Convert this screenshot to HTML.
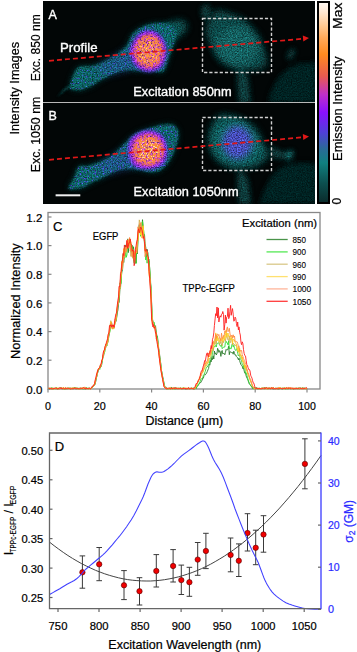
<!DOCTYPE html><html><head><meta charset="utf-8"><style>html,body{margin:0;padding:0;background:#fff;width:357px;height:652px;overflow:hidden}svg{display:block;font-family:"Liberation Sans",sans-serif}</style></head><body><svg width="357" height="652" viewBox="0 0 357 652" >
<defs>
<filter id="blur1" x="-20%" y="-20%" width="140%" height="140%"><feGaussianBlur stdDeviation="1.0"/></filter>
<filter id="blur2" x="-30%" y="-30%" width="160%" height="160%"><feGaussianBlur stdDeviation="2.5"/></filter>
<filter id="blur3" x="-30%" y="-30%" width="160%" height="160%"><feGaussianBlur stdDeviation="3"/></filter>
<filter id="blur4" x="-50%" y="-50%" width="200%" height="200%"><feGaussianBlur stdDeviation="4"/></filter>
<filter id="speck" x="0" y="0" width="100%" height="100%">
  <feTurbulence type="fractalNoise" baseFrequency="0.9" numOctaves="1" seed="3" result="n"/>
  <feColorMatrix in="n" type="matrix" values="0 0 0 0 0  0 0 0 0 0  0 0 0 0 0  0 0 0 -2.2 1.35" result="a"/>
  <feComposite in="SourceGraphic" in2="a" operator="in"/>
</filter>
<clipPath id="clipC"><rect x="48.7" y="213.2" width="270.6" height="180"/></clipPath>
<clipPath id="clipA"><rect x="43" y="1" width="272" height="101"/></clipPath>
<clipPath id="clipB"><rect x="43" y="103" width="272" height="101"/></clipPath>
<filter id="tex" filterUnits="userSpaceOnUse" x="43" y="1" width="272" height="203" color-interpolation-filters="sRGB">
  <feTurbulence type="fractalNoise" baseFrequency="0.8" numOctaves="2" seed="11" result="n"/>
  <feColorMatrix in="n" type="matrix" values="1 0 0 0 0  1 0 0 0 0  1 0 0 0 0  0 0 0 0 1" result="g"/>
  <feComposite in="SourceGraphic" in2="g" operator="arithmetic" k1="1.7" k2="0.15" k3="0" k4="0"/>
</filter>
<filter id="spk0" x="0" y="0" width="100%" height="100%" color-interpolation-filters="sRGB">
  <feTurbulence type="fractalNoise" baseFrequency="0.8" numOctaves="1" seed="4" result="n"/>
  <feColorMatrix in="n" type="matrix" values="0 0 0 0 1  0 0 0 0 0.85  0 0 0 0 0.45  9 0 0 0 -5.3" result="c"/>
  <feComposite in="c" in2="SourceGraphic" operator="in"/>
</filter>
<filter id="spk1" x="0" y="0" width="100%" height="100%" color-interpolation-filters="sRGB">
  <feTurbulence type="fractalNoise" baseFrequency="0.8" numOctaves="1" seed="9" result="n"/>
  <feColorMatrix in="n" type="matrix" values="0 0 0 0 1  0 0 0 0 0.9  0 0 0 0 0.6  9 0 0 0 -5.0" result="c"/>
  <feComposite in="c" in2="SourceGraphic" operator="in"/>
</filter>
<filter id="mottle0" x="0" y="0" width="100%" height="100%" color-interpolation-filters="sRGB">
  <feTurbulence type="fractalNoise" baseFrequency="0.45" numOctaves="2" seed="21" result="n"/>
  <feColorMatrix in="n" type="matrix" values="0 0 0 0 0  0 0 0 0 0  0 0 0 0 0  6 0 0 0 -2.3" result="m"/>
  <feComposite in="SourceGraphic" in2="m" operator="in" result="o"/>
  <feGaussianBlur in="o" stdDeviation="0.4"/>
</filter>
<filter id="mottle1" x="0" y="0" width="100%" height="100%" color-interpolation-filters="sRGB">
  <feTurbulence type="fractalNoise" baseFrequency="0.45" numOctaves="2" seed="33" result="n"/>
  <feColorMatrix in="n" type="matrix" values="0 0 0 0 0  0 0 0 0 0  0 0 0 0 0  6 0 0 0 -2.2" result="m"/>
  <feComposite in="SourceGraphic" in2="m" operator="in" result="o"/>
  <feGaussianBlur in="o" stdDeviation="0.4"/>
</filter>
<radialGradient id="nucO" cx="0.5" cy="0.5" r="0.5">
  <stop offset="0" stop-color="#ffa040"/>
  <stop offset="0.7" stop-color="#fa8438"/>
  <stop offset="0.88" stop-color="#f07050" stop-opacity="0.8"/>
  <stop offset="1" stop-color="#e06070" stop-opacity="0.1"/>
</radialGradient>
<radialGradient id="nucY" cx="0.5" cy="0.5" r="0.5">
  <stop offset="0" stop-color="#fff"/>
  <stop offset="0.6" stop-color="#fff"/>
  <stop offset="1" stop-color="#fff" stop-opacity="0"/>
</radialGradient>
<filter id="spkB0" x="0" y="0" width="100%" height="100%" color-interpolation-filters="sRGB">
  <feTurbulence type="fractalNoise" baseFrequency="0.6" numOctaves="1" seed="17" result="n"/>
  <feColorMatrix in="n" type="matrix" values="0 0 0 0 0.3  0 0 0 0 0.25  0 0 0 0 0.85  8 0 0 0 -4.7" result="c"/>
  <feComposite in="c" in2="SourceGraphic" operator="in"/>
</filter>
<filter id="spkB1" x="0" y="0" width="100%" height="100%" color-interpolation-filters="sRGB">
  <feTurbulence type="fractalNoise" baseFrequency="0.6" numOctaves="1" seed="27" result="n"/>
  <feColorMatrix in="n" type="matrix" values="0 0 0 0 0.3  0 0 0 0 0.25  0 0 0 0 0.85  8 0 0 0 -4.5" result="c"/>
  <feComposite in="c" in2="SourceGraphic" operator="in"/>
</filter>
<linearGradient id="cbar" x1="0" y1="0" x2="0" y2="1">
  <stop offset="0" stop-color="#fffaf5"/>
  <stop offset="0.05" stop-color="#ffe8d2"/>
  <stop offset="0.12" stop-color="#ffc890"/>
  <stop offset="0.18" stop-color="#ffa858"/>
  <stop offset="0.26" stop-color="#ff8a20"/>
  <stop offset="0.37" stop-color="#e85a50"/>
  <stop offset="0.46" stop-color="#c030c8"/>
  <stop offset="0.55" stop-color="#8a10ff"/>
  <stop offset="0.65" stop-color="#5040d8"/>
  <stop offset="0.73" stop-color="#2a6a98"/>
  <stop offset="0.80" stop-color="#108080"/>
  <stop offset="0.9" stop-color="#0c5050"/>
  <stop offset="1" stop-color="#0a2a2a"/>
</linearGradient>
<radialGradient id="nucA" cx="0.5" cy="0.5" r="0.5">
  <stop offset="0" stop-color="#f49060"/>
  <stop offset="0.65" stop-color="#ee8458"/>
  <stop offset="0.88" stop-color="#b850c0"/>
  <stop offset="1" stop-color="#8030e0" stop-opacity="0.3"/>
</radialGradient>
<radialGradient id="nucR" cx="0.5" cy="0.5" r="0.5">
  <stop offset="0" stop-color="#6a40e8"/>
  <stop offset="0.6" stop-color="#5a40d8"/>
  <stop offset="1" stop-color="#3a70b0" stop-opacity="0"/>
</radialGradient>

</defs>
<rect width="357" height="652" fill="#fff"/>
<rect x="43" y="1" width="272" height="203" fill="#020606"/>
<g clip-path="url(#clipA)">
<g filter="url(#tex)">
<g filter="url(#blur2)">
<ellipse cx="206" cy="12" rx="5" ry="8" fill="#0a3a3a"/>
<path d="M268,103 C270,84 284,66 300,63 C308,62 314,62 318,62 L318,103 Z" fill="#052020"/>
<path d="M238,68 C244,70 248,74 249,82 L251,103 L239,103 C238,92 236,80 238,68 Z" fill="#0a3c3c"/>
<ellipse cx="291" cy="54" rx="3" ry="6" transform="rotate(30 291 54)" fill="#0a4040"/>
</g>
<path d="M216.0,10.5 L217.7,10.1 L219.4,10.1 L221.4,10.4 L223.4,11.0 L225.7,11.7 L228.0,12.5 L230.6,13.3 L233.4,14.2 L236.4,15.2 L239.4,16.4 L242.3,18.0 L245.0,20.0 L247.5,22.5 L249.8,25.6 L252.0,29.0 L254.2,32.5 L256.1,35.9 L258.0,39.1 L259.8,42.1 L261.5,45.0 L263.2,47.9 L264.6,50.7 L265.7,53.3 L266.4,55.8 L266.8,58.2 L267.1,60.5 L267.1,62.6 L266.6,64.6 L265.6,66.3 L264.0,67.7 L261.5,68.8 L258.1,69.7 L254.2,70.2 L250.1,70.6 L246.1,70.7 L242.6,70.5 L239.5,70.0 L236.5,69.1 L233.6,67.9 L230.8,66.6 L228.3,65.3 L226.0,64.0 L224.0,62.9 L222.3,61.9 L220.8,60.9 L219.4,59.6 L218.0,58.0 L216.4,55.8 L214.6,52.9 L212.5,49.3 L210.4,45.3 L208.5,41.2 L207.0,37.3 L206.0,34.0 L205.7,31.2 L205.9,28.6 L206.4,26.2 L207.2,24.0 L208.1,22.0 L209.0,20.0 L209.9,18.0 L210.9,16.1 L211.9,14.2 L213.1,12.6 L214.5,11.4Z" fill="#0b4444" filter="url(#blur3)"/>
<ellipse cx="238" cy="46" rx="22" ry="20" fill="#136868" opacity="0.8" filter="url(#blur4)"/>
<path d="M57,97 L66,90 L71,87 L70,85 L64,89 Z" fill="#0c5050" filter="url(#blur1)"/>
<ellipse cx="173" cy="30" rx="15" ry="9" transform="rotate(-25 173 30)" fill="#0c5050" filter="url(#blur3)"/>
<path d="M70.0,86.0 L70.2,84.8 L70.5,83.4 L71.0,81.7 L71.5,80.1 L72.0,78.5 L72.5,77.0 L73.0,75.7 L73.6,74.4 L74.1,73.2 L74.7,72.0 L75.3,70.9 L76.0,70.0 L76.6,69.2 L77.2,68.5 L77.9,67.8 L78.6,67.3 L79.4,66.9 L80.5,66.5 L81.8,66.3 L83.3,66.3 L84.9,66.3 L86.6,66.4 L88.3,66.4 L90.0,66.2 L91.6,65.9 L93.3,65.6 L95.0,65.2 L96.6,64.7 L98.3,64.1 L100.0,63.5 L101.7,62.8 L103.4,62.0 L105.1,61.1 L106.8,60.2 L108.5,59.3 L110.0,58.4 L111.4,57.6 L112.7,56.9 L113.9,56.2 L115.1,55.4 L116.4,54.6 L117.7,53.6 L119.2,52.5 L120.7,51.3 L122.4,50.1 L123.9,48.7 L125.4,47.3 L126.7,45.8 L127.7,44.1 L128.6,42.3 L129.3,40.3 L130.0,38.4 L130.8,36.6 L131.8,35.0 L133.0,33.6 L134.2,32.3 L135.6,31.1 L137.0,30.0 L138.5,28.9 L140.0,28.0 L141.6,27.1 L143.3,26.3 L145.1,25.6 L146.9,25.0 L148.7,24.5 L150.4,24.0 L152.1,23.6 L153.7,23.4 L155.4,23.2 L156.9,23.1 L158.5,23.0 L160.0,23.0 L161.4,23.0 L162.9,23.1 L164.2,23.2 L165.5,23.4 L166.8,23.6 L168.0,24.0 L169.2,24.4 L170.3,25.0 L171.4,25.6 L172.4,26.3 L173.3,27.1 L174.0,28.0 L174.6,29.1 L175.1,30.3 L175.6,31.6 L175.9,33.0 L176.0,34.5 L176.0,36.0 L175.8,37.5 L175.4,39.1 L174.9,40.8 L174.3,42.5 L173.6,44.3 L173.0,46.0 L172.4,47.8 L171.7,49.7 L171.0,51.6 L170.3,53.4 L169.6,55.3 L169.0,57.0 L168.5,58.7 L168.0,60.3 L167.5,61.8 L167.0,63.3 L166.5,64.7 L166.0,66.0 L165.5,67.3 L165.1,68.5 L164.6,69.7 L164.0,70.7 L163.2,71.5 L162.0,72.0 L160.3,72.2 L158.2,72.0 L155.8,71.6 L153.4,71.1 L151.1,70.7 L149.0,70.5 L147.2,70.5 L145.6,70.5 L144.1,70.7 L142.6,70.8 L141.1,70.9 L139.6,70.9 L138.0,70.8 L136.4,70.6 L134.8,70.4 L133.2,70.2 L131.6,70.0 L130.0,70.0 L128.4,70.1 L126.7,70.2 L125.0,70.5 L123.3,70.7 L121.7,71.1 L120.0,71.5 L118.3,72.0 L116.7,72.5 L115.0,73.1 L113.3,73.8 L111.7,74.5 L110.0,75.2 L108.3,76.0 L106.6,76.9 L104.9,77.8 L103.2,78.7 L101.5,79.6 L100.0,80.5 L98.6,81.3 L97.4,82.1 L96.3,82.9 L95.1,83.7 L93.8,84.4 L92.4,85.2 L90.8,86.0 L89.0,86.9 L87.1,87.8 L85.1,88.6 L83.2,89.2 L81.4,89.7 L79.6,89.9 L77.6,90.0 L75.7,89.9 L74.0,89.7 L72.5,89.4 L71.3,89.1 L70.5,88.8 L70.1,88.5 L69.9,88.1 L69.8,87.6 L69.9,86.9Z" fill="#0d5656" opacity="0.7" filter="url(#blur3)"/>
<path d="M70.0,86.0 L70.2,84.8 L70.5,83.4 L71.0,81.7 L71.5,80.1 L72.0,78.5 L72.5,77.0 L73.0,75.7 L73.6,74.4 L74.1,73.2 L74.7,72.0 L75.3,70.9 L76.0,70.0 L76.6,69.2 L77.2,68.5 L77.9,67.8 L78.6,67.3 L79.4,66.9 L80.5,66.5 L81.8,66.3 L83.3,66.3 L84.9,66.3 L86.6,66.4 L88.3,66.4 L90.0,66.2 L91.6,65.9 L93.3,65.6 L95.0,65.2 L96.6,64.7 L98.3,64.1 L100.0,63.5 L101.7,62.8 L103.4,62.0 L105.1,61.1 L106.8,60.2 L108.5,59.3 L110.0,58.4 L111.4,57.6 L112.7,56.9 L113.9,56.2 L115.1,55.4 L116.4,54.6 L117.7,53.6 L119.2,52.5 L120.7,51.3 L122.4,50.1 L123.9,48.7 L125.4,47.3 L126.7,45.8 L127.7,44.1 L128.6,42.3 L129.3,40.3 L130.0,38.4 L130.8,36.6 L131.8,35.0 L133.0,33.6 L134.2,32.3 L135.6,31.1 L137.0,30.0 L138.5,28.9 L140.0,28.0 L141.6,27.1 L143.3,26.3 L145.1,25.6 L146.9,25.0 L148.7,24.5 L150.4,24.0 L152.1,23.6 L153.7,23.4 L155.4,23.2 L156.9,23.1 L158.5,23.0 L160.0,23.0 L161.4,23.0 L162.9,23.1 L164.2,23.2 L165.5,23.4 L166.8,23.6 L168.0,24.0 L169.2,24.4 L170.3,25.0 L171.4,25.6 L172.4,26.3 L173.3,27.1 L174.0,28.0 L174.6,29.1 L175.1,30.3 L175.6,31.6 L175.9,33.0 L176.0,34.5 L176.0,36.0 L175.8,37.5 L175.4,39.1 L174.9,40.8 L174.3,42.5 L173.6,44.3 L173.0,46.0 L172.4,47.8 L171.7,49.7 L171.0,51.6 L170.3,53.4 L169.6,55.3 L169.0,57.0 L168.5,58.7 L168.0,60.3 L167.5,61.8 L167.0,63.3 L166.5,64.7 L166.0,66.0 L165.5,67.3 L165.1,68.5 L164.6,69.7 L164.0,70.7 L163.2,71.5 L162.0,72.0 L160.3,72.2 L158.2,72.0 L155.8,71.6 L153.4,71.1 L151.1,70.7 L149.0,70.5 L147.2,70.5 L145.6,70.5 L144.1,70.7 L142.6,70.8 L141.1,70.9 L139.6,70.9 L138.0,70.8 L136.4,70.6 L134.8,70.4 L133.2,70.2 L131.6,70.0 L130.0,70.0 L128.4,70.1 L126.7,70.2 L125.0,70.5 L123.3,70.7 L121.7,71.1 L120.0,71.5 L118.3,72.0 L116.7,72.5 L115.0,73.1 L113.3,73.8 L111.7,74.5 L110.0,75.2 L108.3,76.0 L106.6,76.9 L104.9,77.8 L103.2,78.7 L101.5,79.6 L100.0,80.5 L98.6,81.3 L97.4,82.1 L96.3,82.9 L95.1,83.7 L93.8,84.4 L92.4,85.2 L90.8,86.0 L89.0,86.9 L87.1,87.8 L85.1,88.6 L83.2,89.2 L81.4,89.7 L79.6,89.9 L77.6,90.0 L75.7,89.9 L74.0,89.7 L72.5,89.4 L71.3,89.1 L70.5,88.8 L70.1,88.5 L69.9,88.1 L69.8,87.6 L69.9,86.9Z" fill="#116868" filter="url(#blur1)" opacity="0.9"/>
<path d="M70.0,86.0 L70.2,84.8 L70.5,83.4 L71.0,81.7 L71.5,80.1 L72.0,78.5 L72.5,77.0 L73.0,75.7 L73.6,74.4 L74.1,73.2 L74.7,72.0 L75.3,70.9 L76.0,70.0 L76.6,69.2 L77.2,68.5 L77.9,67.8 L78.6,67.3 L79.4,66.9 L80.5,66.5 L81.8,66.3 L83.3,66.3 L84.9,66.3 L86.6,66.4 L88.3,66.4 L90.0,66.2 L91.6,65.9 L93.3,65.6 L95.0,65.2 L96.6,64.7 L98.3,64.1 L100.0,63.5 L101.7,62.8 L103.4,62.0 L105.1,61.1 L106.8,60.2 L108.5,59.3 L110.0,58.4 L111.4,57.6 L112.7,56.9 L113.9,56.2 L115.1,55.4 L116.4,54.6 L117.7,53.6 L119.2,52.5 L120.7,51.3 L122.4,50.1 L123.9,48.7 L125.4,47.3 L126.7,45.8 L127.7,44.1 L128.6,42.3 L129.3,40.3 L130.0,38.4 L130.8,36.6 L131.8,35.0 L133.0,33.6 L134.2,32.3 L135.6,31.1 L137.0,30.0 L138.5,28.9 L140.0,28.0 L141.6,27.1 L143.3,26.3 L145.1,25.6 L146.9,25.0 L148.7,24.5 L150.4,24.0 L152.1,23.6 L153.7,23.4 L155.4,23.2 L156.9,23.1 L158.5,23.0 L160.0,23.0 L161.4,23.0 L162.9,23.1 L164.2,23.2 L165.5,23.4 L166.8,23.6 L168.0,24.0 L169.2,24.4 L170.3,25.0 L171.4,25.6 L172.4,26.3 L173.3,27.1 L174.0,28.0 L174.6,29.1 L175.1,30.3 L175.6,31.6 L175.9,33.0 L176.0,34.5 L176.0,36.0 L175.8,37.5 L175.4,39.1 L174.9,40.8 L174.3,42.5 L173.6,44.3 L173.0,46.0 L172.4,47.8 L171.7,49.7 L171.0,51.6 L170.3,53.4 L169.6,55.3 L169.0,57.0 L168.5,58.7 L168.0,60.3 L167.5,61.8 L167.0,63.3 L166.5,64.7 L166.0,66.0 L165.5,67.3 L165.1,68.5 L164.6,69.7 L164.0,70.7 L163.2,71.5 L162.0,72.0 L160.3,72.2 L158.2,72.0 L155.8,71.6 L153.4,71.1 L151.1,70.7 L149.0,70.5 L147.2,70.5 L145.6,70.5 L144.1,70.7 L142.6,70.8 L141.1,70.9 L139.6,70.9 L138.0,70.8 L136.4,70.6 L134.8,70.4 L133.2,70.2 L131.6,70.0 L130.0,70.0 L128.4,70.1 L126.7,70.2 L125.0,70.5 L123.3,70.7 L121.7,71.1 L120.0,71.5 L118.3,72.0 L116.7,72.5 L115.0,73.1 L113.3,73.8 L111.7,74.5 L110.0,75.2 L108.3,76.0 L106.6,76.9 L104.9,77.8 L103.2,78.7 L101.5,79.6 L100.0,80.5 L98.6,81.3 L97.4,82.1 L96.3,82.9 L95.1,83.7 L93.8,84.4 L92.4,85.2 L90.8,86.0 L89.0,86.9 L87.1,87.8 L85.1,88.6 L83.2,89.2 L81.4,89.7 L79.6,89.9 L77.6,90.0 L75.7,89.9 L74.0,89.7 L72.5,89.4 L71.3,89.1 L70.5,88.8 L70.1,88.5 L69.9,88.1 L69.8,87.6 L69.9,86.9Z" fill="#4a3ee0" opacity="0.8" filter="url(#spkB0)"/>
<ellipse cx="126" cy="61" rx="30" ry="9" transform="rotate(-20 126 61)" fill="#3a40c0" opacity="0.3" filter="url(#blur4)"/>
<path d="M128.3,51.5 L128.5,49.0 L129.0,46.6 L129.7,44.1 L130.8,41.8 L132.0,39.5 L133.4,37.5 L134.9,35.6 L136.8,33.7 L138.8,32.0 L140.9,30.5 L143.1,29.3 L145.2,28.5 L147.4,28.2 L149.7,28.2 L152.0,28.6 L154.3,29.2 L156.5,30.2 L158.4,31.3 L160.2,32.9 L161.9,34.8 L163.5,37.0 L164.9,39.3 L166.1,41.8 L167.0,44.2 L167.5,46.7 L167.9,49.4 L167.9,52.2 L167.8,54.9 L167.5,57.5 L167.0,59.9 L166.2,62.1 L165.3,64.1 L164.2,66.0 L162.9,67.8 L161.4,69.3 L159.7,70.5 L157.7,71.6 L155.4,72.4 L153.0,73.0 L150.4,73.4 L148.0,73.5 L145.7,73.3 L143.5,72.9 L141.4,72.1 L139.3,71.1 L137.3,69.8 L135.5,68.3 L133.9,66.6 L132.5,64.6 L131.2,62.2 L130.1,59.5 L129.2,56.8 L128.6,54.1Z" fill="#3c48c8" opacity="0.35" filter="url(#blur1)"/>
<path d="M130.5,51.5 L130.6,49.3 L131.1,47.1 L131.8,44.9 L132.7,42.8 L133.8,40.8 L135.0,39.0 L136.4,37.3 L138.0,35.6 L139.8,34.1 L141.8,32.7 L143.7,31.7 L145.6,31.0 L147.5,30.7 L149.6,30.7 L151.7,31.0 L153.7,31.6 L155.7,32.4 L157.4,33.5 L159.0,34.9 L160.5,36.6 L161.9,38.5 L163.2,40.6 L164.2,42.8 L165.0,45.0 L165.5,47.2 L165.8,49.6 L165.9,52.1 L165.8,54.6 L165.5,56.9 L165.0,59.0 L164.4,60.9 L163.5,62.8 L162.5,64.5 L161.4,66.0 L160.0,67.4 L158.5,68.5 L156.7,69.4 L154.7,70.2 L152.5,70.7 L150.2,71.1 L148.0,71.2 L146.0,71.0 L144.1,70.6 L142.1,69.9 L140.3,69.0 L138.5,67.9 L136.9,66.5 L135.5,65.0 L134.2,63.2 L133.1,61.0 L132.1,58.7 L131.3,56.2 L130.7,53.8Z" fill="#7424ee" filter="url(#blur1)"/>
<path d="M132.7,51.5 L132.8,49.6 L133.2,47.6 L133.8,45.7 L134.6,43.8 L135.6,42.1 L136.6,40.5 L137.9,39.0 L139.3,37.5 L140.9,36.2 L142.6,35.0 L144.3,34.1 L146.0,33.5 L147.7,33.2 L149.5,33.2 L151.3,33.5 L153.1,34.0 L154.8,34.7 L156.4,35.7 L157.8,36.9 L159.1,38.4 L160.4,40.1 L161.4,42.0 L162.4,43.9 L163.0,45.8 L163.5,47.8 L163.8,49.9 L163.8,52.1 L163.7,54.2 L163.5,56.3 L163.0,58.1 L162.5,59.8 L161.8,61.4 L160.9,62.9 L159.8,64.3 L158.7,65.5 L157.3,66.5 L155.8,67.3 L154.0,67.9 L152.0,68.4 L150.1,68.7 L148.1,68.8 L146.3,68.7 L144.6,68.3 L142.9,67.7 L141.3,66.9 L139.7,65.9 L138.3,64.7 L137.1,63.4 L136.0,61.8 L135.0,59.9 L134.1,57.8 L133.4,55.6 L132.9,53.5Z" fill="#c84aa8" opacity="0.85" filter="url(#blur2)"/>
</g>
<path d="M132.8,51.8 L132.9,49.8 L133.3,47.8 L134.0,45.9 L134.8,44.0 L135.8,42.2 L136.9,40.5 L138.1,39.0 L139.6,37.5 L141.2,36.1 L142.9,34.9 L144.7,34.0 L146.4,33.3 L148.2,33.1 L150.0,33.1 L151.9,33.4 L153.7,33.9 L155.5,34.6 L157.0,35.6 L158.5,36.8 L159.8,38.4 L161.1,40.1 L162.2,42.0 L163.2,44.0 L163.9,45.9 L164.3,48.0 L164.6,50.1 L164.7,52.4 L164.6,54.6 L164.3,56.7 L163.9,58.5 L163.3,60.3 L162.6,61.9 L161.7,63.5 L160.6,64.9 L159.4,66.1 L158.0,67.1 L156.4,67.9 L154.6,68.6 L152.6,69.1 L150.6,69.4 L148.6,69.5 L146.8,69.3 L145.0,69.0 L143.3,68.4 L141.6,67.5 L140.0,66.5 L138.6,65.3 L137.3,63.9 L136.2,62.3 L135.1,60.4 L134.2,58.2 L133.5,56.0 L133.0,53.9Z" fill="url(#nucO)" filter="url(#mottle0)"/>
<path d="M135.7,51.8 L135.8,50.2 L136.2,48.5 L136.7,46.9 L137.4,45.4 L138.2,43.9 L139.1,42.5 L140.1,41.3 L141.3,40.0 L142.7,38.9 L144.1,37.9 L145.5,37.1 L146.9,36.6 L148.4,36.4 L149.9,36.4 L151.4,36.7 L152.9,37.1 L154.4,37.7 L155.6,38.5 L156.8,39.5 L158.0,40.8 L159.0,42.2 L159.9,43.8 L160.7,45.4 L161.3,47.0 L161.6,48.6 L161.9,50.4 L161.9,52.3 L161.8,54.1 L161.6,55.8 L161.3,57.3 L160.8,58.8 L160.2,60.1 L159.4,61.4 L158.6,62.5 L157.6,63.5 L156.5,64.4 L155.2,65.1 L153.6,65.6 L152.0,66.0 L150.3,66.3 L148.7,66.3 L147.2,66.2 L145.8,65.9 L144.4,65.4 L143.0,64.8 L141.7,63.9 L140.5,62.9 L139.4,61.8 L138.5,60.4 L137.6,58.8 L136.9,57.1 L136.3,55.3 L135.9,53.5Z" fill="url(#nucY)" filter="url(#spk0)"/>
</g>
<g clip-path="url(#clipB)">
<g filter="url(#tex)">
<g filter="url(#blur2)">
<path d="M259,204 C264,186 272,171 283,166 C296,161 310,162 318,164 L318,204 Z" fill="#052020"/>
<path d="M238,170 C244,172 248,176 249,184 L251,204 L239,204 C238,194 236,182 238,170 Z" fill="#0a3c3c"/>
<path d="M270,146 L284,152 L292,150 L290,160 L272,158 Z" fill="#083a3a"/>
<ellipse cx="290" cy="155" rx="2.5" ry="5" transform="rotate(30 290 155)" fill="#127070"/>
</g>
<path d="M221.2,114.5 L224.1,114.3 L227.6,114.5 L231.4,115.1 L235.4,116.1 L239.2,117.5 L242.6,119.3 L245.7,121.7 L248.8,124.7 L251.7,128.1 L254.4,131.6 L257.0,135.1 L259.3,138.3 L261.6,141.3 L263.9,144.2 L266.0,147.1 L267.7,149.9 L268.7,152.5 L268.8,155.0 L267.9,157.4 L266.1,159.7 L263.7,161.9 L260.9,163.9 L257.7,165.6 L254.5,166.9 L251.0,167.9 L247.0,168.5 L242.7,168.9 L238.5,169.0 L234.4,168.7 L230.7,168.1 L227.4,167.1 L224.2,165.6 L221.2,163.9 L218.5,161.9 L216.1,159.7 L214.0,157.4 L212.3,155.0 L210.9,152.3 L209.8,149.4 L208.9,146.5 L208.4,143.6 L208.1,140.7 L208.1,137.8 L208.5,134.9 L209.1,131.9 L209.9,129.0 L210.9,126.4 L212.0,124.0 L213.1,121.8 L214.2,119.8 L215.5,117.9 L217.0,116.3 L218.9,115.2Z" fill="#0d5050" filter="url(#blur3)"/>
<ellipse cx="237" cy="142" rx="23" ry="21" fill="#177272" opacity="0.7" filter="url(#blur4)"/>
<ellipse cx="237.3" cy="142.5" rx="14.5" ry="16" fill="#5a42d8" opacity="0.72" filter="url(#blur3)"/>

<path d="M68.4,187.8 L68.8,186.6 L69.6,185.1 L70.7,183.4 L71.9,181.6 L73.1,179.7 L74.0,178.0 L74.7,176.3 L75.3,174.6 L75.9,172.8 L76.4,171.2 L76.9,169.7 L77.5,168.5 L78.1,167.6 L78.6,166.8 L79.2,166.3 L79.8,165.9 L80.4,165.6 L81.0,165.4 L81.6,165.4 L82.2,165.6 L82.9,165.9 L83.6,166.2 L84.3,166.4 L85.2,166.5 L86.2,166.3 L87.3,166.1 L88.5,165.7 L89.8,165.3 L91.0,164.9 L92.2,164.5 L93.3,164.2 L94.4,163.8 L95.5,163.5 L96.6,163.1 L97.7,162.7 L99.0,162.2 L100.4,161.6 L101.9,161.0 L103.4,160.3 L105.0,159.6 L106.5,158.8 L108.0,158.0 L109.4,157.2 L110.7,156.3 L112.1,155.3 L113.4,154.4 L114.6,153.4 L115.8,152.4 L116.9,151.4 L118.0,150.3 L119.1,149.2 L120.1,148.0 L121.1,147.0 L122.0,146.0 L122.9,145.1 L123.7,144.3 L124.5,143.5 L125.3,142.8 L126.1,142.0 L127.0,141.2 L128.0,140.3 L129.0,139.4 L130.0,138.5 L131.0,137.6 L132.0,136.8 L133.0,136.0 L133.9,135.3 L134.7,134.7 L135.5,134.1 L136.3,133.6 L137.2,133.0 L138.2,132.5 L139.3,132.0 L140.4,131.5 L141.6,131.1 L142.8,130.6 L144.1,130.2 L145.5,129.7 L147.0,129.2 L148.6,128.6 L150.2,128.0 L151.9,127.5 L153.6,127.0 L155.3,126.5 L157.0,126.1 L158.6,125.7 L160.3,125.3 L162.0,124.9 L163.6,124.7 L165.1,124.5 L166.6,124.4 L168.0,124.3 L169.3,124.2 L170.7,124.3 L171.9,124.6 L173.0,125.0 L174.1,125.6 L175.1,126.4 L176.0,127.4 L176.8,128.5 L177.5,129.7 L178.0,131.0 L178.3,132.4 L178.4,133.9 L178.3,135.5 L178.2,137.3 L177.9,139.1 L177.5,141.0 L177.0,143.1 L176.3,145.3 L175.5,147.6 L174.7,149.9 L173.8,152.2 L172.9,154.2 L172.0,156.1 L171.1,157.8 L170.2,159.5 L169.2,161.1 L168.2,162.6 L167.1,164.0 L165.9,165.4 L164.7,166.7 L163.4,168.0 L162.1,169.1 L160.7,170.1 L159.2,170.9 L157.7,171.4 L156.1,171.8 L154.4,172.0 L152.7,172.0 L151.1,172.0 L149.4,171.9 L147.8,171.7 L146.1,171.4 L144.5,171.0 L142.9,170.6 L141.2,170.2 L139.6,169.9 L138.0,169.7 L136.3,169.4 L134.7,169.2 L133.1,169.1 L131.4,169.0 L129.8,168.9 L128.2,168.9 L126.5,168.8 L124.9,168.9 L123.3,169.0 L121.6,169.2 L120.0,169.5 L118.3,170.0 L116.6,170.7 L114.9,171.4 L113.2,172.2 L111.6,173.0 L110.0,173.8 L108.6,174.5 L107.3,175.2 L106.0,175.9 L104.7,176.6 L103.4,177.3 L102.0,178.0 L100.5,178.7 L98.9,179.4 L97.2,180.0 L95.5,180.7 L93.9,181.4 L92.2,182.2 L90.6,183.1 L88.9,184.0 L87.3,185.0 L85.7,186.0 L84.0,186.8 L82.4,187.5 L80.7,188.0 L78.9,188.4 L77.2,188.8 L75.5,189.0 L73.9,189.1 L72.6,189.2 L71.5,189.2 L70.4,189.3 L69.5,189.2 L68.9,189.0 L68.5,188.6Z" fill="#0d5656" opacity="0.7" filter="url(#blur3)"/>
<path d="M68.4,187.8 L68.8,186.6 L69.6,185.1 L70.7,183.4 L71.9,181.6 L73.1,179.7 L74.0,178.0 L74.7,176.3 L75.3,174.6 L75.9,172.8 L76.4,171.2 L76.9,169.7 L77.5,168.5 L78.1,167.6 L78.6,166.8 L79.2,166.3 L79.8,165.9 L80.4,165.6 L81.0,165.4 L81.6,165.4 L82.2,165.6 L82.9,165.9 L83.6,166.2 L84.3,166.4 L85.2,166.5 L86.2,166.3 L87.3,166.1 L88.5,165.7 L89.8,165.3 L91.0,164.9 L92.2,164.5 L93.3,164.2 L94.4,163.8 L95.5,163.5 L96.6,163.1 L97.7,162.7 L99.0,162.2 L100.4,161.6 L101.9,161.0 L103.4,160.3 L105.0,159.6 L106.5,158.8 L108.0,158.0 L109.4,157.2 L110.7,156.3 L112.1,155.3 L113.4,154.4 L114.6,153.4 L115.8,152.4 L116.9,151.4 L118.0,150.3 L119.1,149.2 L120.1,148.0 L121.1,147.0 L122.0,146.0 L122.9,145.1 L123.7,144.3 L124.5,143.5 L125.3,142.8 L126.1,142.0 L127.0,141.2 L128.0,140.3 L129.0,139.4 L130.0,138.5 L131.0,137.6 L132.0,136.8 L133.0,136.0 L133.9,135.3 L134.7,134.7 L135.5,134.1 L136.3,133.6 L137.2,133.0 L138.2,132.5 L139.3,132.0 L140.4,131.5 L141.6,131.1 L142.8,130.6 L144.1,130.2 L145.5,129.7 L147.0,129.2 L148.6,128.6 L150.2,128.0 L151.9,127.5 L153.6,127.0 L155.3,126.5 L157.0,126.1 L158.6,125.7 L160.3,125.3 L162.0,124.9 L163.6,124.7 L165.1,124.5 L166.6,124.4 L168.0,124.3 L169.3,124.2 L170.7,124.3 L171.9,124.6 L173.0,125.0 L174.1,125.6 L175.1,126.4 L176.0,127.4 L176.8,128.5 L177.5,129.7 L178.0,131.0 L178.3,132.4 L178.4,133.9 L178.3,135.5 L178.2,137.3 L177.9,139.1 L177.5,141.0 L177.0,143.1 L176.3,145.3 L175.5,147.6 L174.7,149.9 L173.8,152.2 L172.9,154.2 L172.0,156.1 L171.1,157.8 L170.2,159.5 L169.2,161.1 L168.2,162.6 L167.1,164.0 L165.9,165.4 L164.7,166.7 L163.4,168.0 L162.1,169.1 L160.7,170.1 L159.2,170.9 L157.7,171.4 L156.1,171.8 L154.4,172.0 L152.7,172.0 L151.1,172.0 L149.4,171.9 L147.8,171.7 L146.1,171.4 L144.5,171.0 L142.9,170.6 L141.2,170.2 L139.6,169.9 L138.0,169.7 L136.3,169.4 L134.7,169.2 L133.1,169.1 L131.4,169.0 L129.8,168.9 L128.2,168.9 L126.5,168.8 L124.9,168.9 L123.3,169.0 L121.6,169.2 L120.0,169.5 L118.3,170.0 L116.6,170.7 L114.9,171.4 L113.2,172.2 L111.6,173.0 L110.0,173.8 L108.6,174.5 L107.3,175.2 L106.0,175.9 L104.7,176.6 L103.4,177.3 L102.0,178.0 L100.5,178.7 L98.9,179.4 L97.2,180.0 L95.5,180.7 L93.9,181.4 L92.2,182.2 L90.6,183.1 L88.9,184.0 L87.3,185.0 L85.7,186.0 L84.0,186.8 L82.4,187.5 L80.7,188.0 L78.9,188.4 L77.2,188.8 L75.5,189.0 L73.9,189.1 L72.6,189.2 L71.5,189.2 L70.4,189.3 L69.5,189.2 L68.9,189.0 L68.5,188.6Z" fill="#116868" filter="url(#blur1)" opacity="0.9"/>
<path d="M68.4,187.8 L68.8,186.6 L69.6,185.1 L70.7,183.4 L71.9,181.6 L73.1,179.7 L74.0,178.0 L74.7,176.3 L75.3,174.6 L75.9,172.8 L76.4,171.2 L76.9,169.7 L77.5,168.5 L78.1,167.6 L78.6,166.8 L79.2,166.3 L79.8,165.9 L80.4,165.6 L81.0,165.4 L81.6,165.4 L82.2,165.6 L82.9,165.9 L83.6,166.2 L84.3,166.4 L85.2,166.5 L86.2,166.3 L87.3,166.1 L88.5,165.7 L89.8,165.3 L91.0,164.9 L92.2,164.5 L93.3,164.2 L94.4,163.8 L95.5,163.5 L96.6,163.1 L97.7,162.7 L99.0,162.2 L100.4,161.6 L101.9,161.0 L103.4,160.3 L105.0,159.6 L106.5,158.8 L108.0,158.0 L109.4,157.2 L110.7,156.3 L112.1,155.3 L113.4,154.4 L114.6,153.4 L115.8,152.4 L116.9,151.4 L118.0,150.3 L119.1,149.2 L120.1,148.0 L121.1,147.0 L122.0,146.0 L122.9,145.1 L123.7,144.3 L124.5,143.5 L125.3,142.8 L126.1,142.0 L127.0,141.2 L128.0,140.3 L129.0,139.4 L130.0,138.5 L131.0,137.6 L132.0,136.8 L133.0,136.0 L133.9,135.3 L134.7,134.7 L135.5,134.1 L136.3,133.6 L137.2,133.0 L138.2,132.5 L139.3,132.0 L140.4,131.5 L141.6,131.1 L142.8,130.6 L144.1,130.2 L145.5,129.7 L147.0,129.2 L148.6,128.6 L150.2,128.0 L151.9,127.5 L153.6,127.0 L155.3,126.5 L157.0,126.1 L158.6,125.7 L160.3,125.3 L162.0,124.9 L163.6,124.7 L165.1,124.5 L166.6,124.4 L168.0,124.3 L169.3,124.2 L170.7,124.3 L171.9,124.6 L173.0,125.0 L174.1,125.6 L175.1,126.4 L176.0,127.4 L176.8,128.5 L177.5,129.7 L178.0,131.0 L178.3,132.4 L178.4,133.9 L178.3,135.5 L178.2,137.3 L177.9,139.1 L177.5,141.0 L177.0,143.1 L176.3,145.3 L175.5,147.6 L174.7,149.9 L173.8,152.2 L172.9,154.2 L172.0,156.1 L171.1,157.8 L170.2,159.5 L169.2,161.1 L168.2,162.6 L167.1,164.0 L165.9,165.4 L164.7,166.7 L163.4,168.0 L162.1,169.1 L160.7,170.1 L159.2,170.9 L157.7,171.4 L156.1,171.8 L154.4,172.0 L152.7,172.0 L151.1,172.0 L149.4,171.9 L147.8,171.7 L146.1,171.4 L144.5,171.0 L142.9,170.6 L141.2,170.2 L139.6,169.9 L138.0,169.7 L136.3,169.4 L134.7,169.2 L133.1,169.1 L131.4,169.0 L129.8,168.9 L128.2,168.9 L126.5,168.8 L124.9,168.9 L123.3,169.0 L121.6,169.2 L120.0,169.5 L118.3,170.0 L116.6,170.7 L114.9,171.4 L113.2,172.2 L111.6,173.0 L110.0,173.8 L108.6,174.5 L107.3,175.2 L106.0,175.9 L104.7,176.6 L103.4,177.3 L102.0,178.0 L100.5,178.7 L98.9,179.4 L97.2,180.0 L95.5,180.7 L93.9,181.4 L92.2,182.2 L90.6,183.1 L88.9,184.0 L87.3,185.0 L85.7,186.0 L84.0,186.8 L82.4,187.5 L80.7,188.0 L78.9,188.4 L77.2,188.8 L75.5,189.0 L73.9,189.1 L72.6,189.2 L71.5,189.2 L70.4,189.3 L69.5,189.2 L68.9,189.0 L68.5,188.6Z" fill="#4a3ee0" opacity="0.8" filter="url(#spkB1)"/>
<ellipse cx="126" cy="159.8" rx="30" ry="9" transform="rotate(-20 126 159.8)" fill="#3a40c0" opacity="0.3" filter="url(#blur4)"/>
<path d="M127.9,140.0 L129.0,137.9 L130.6,136.1 L132.5,134.6 L134.5,133.2 L136.6,132.0 L138.6,131.0 L140.7,130.1 L142.9,129.4 L145.1,128.9 L147.4,128.6 L149.6,128.6 L151.8,128.8 L154.0,129.3 L156.3,130.0 L158.6,131.1 L160.7,132.3 L162.7,133.8 L164.3,135.5 L165.6,137.5 L166.6,139.9 L167.5,142.5 L168.1,145.2 L168.5,147.9 L168.7,150.4 L168.8,152.8 L168.6,155.3 L168.2,157.7 L167.6,160.1 L166.6,162.2 L165.4,164.1 L163.8,165.7 L161.8,167.1 L159.5,168.4 L157.0,169.5 L154.4,170.3 L151.8,170.8 L149.0,171.0 L145.9,171.0 L142.6,170.8 L139.5,170.3 L136.6,169.5 L134.2,168.5 L132.4,167.2 L130.9,165.6 L129.6,163.7 L128.7,161.6 L127.9,159.3 L127.3,157.0 L126.8,154.4 L126.6,151.4 L126.5,148.3 L126.6,145.3 L127.1,142.4Z" fill="#3c48c8" opacity="0.35" filter="url(#blur1)"/>
<path d="M130.0,141.0 L131.0,139.2 L132.4,137.6 L134.1,136.2 L135.9,135.0 L137.8,133.9 L139.6,133.0 L141.4,132.2 L143.4,131.6 L145.4,131.1 L147.4,130.9 L149.4,130.8 L151.4,131.0 L153.4,131.5 L155.4,132.1 L157.4,133.0 L159.4,134.2 L161.1,135.5 L162.5,137.0 L163.7,138.8 L164.6,140.9 L165.4,143.3 L165.9,145.7 L166.3,148.1 L166.5,150.3 L166.5,152.5 L166.4,154.7 L166.0,156.9 L165.4,158.9 L164.6,160.8 L163.5,162.5 L162.1,164.0 L160.3,165.3 L158.2,166.4 L156.0,167.3 L153.7,168.0 L151.4,168.5 L148.9,168.7 L146.1,168.7 L143.2,168.5 L140.4,168.1 L137.8,167.4 L135.7,166.5 L134.0,165.3 L132.7,163.9 L131.6,162.2 L130.7,160.3 L130.0,158.3 L129.5,156.2 L129.1,153.9 L128.8,151.2 L128.8,148.5 L128.9,145.7 L129.3,143.2Z" fill="#7424ee" filter="url(#blur1)"/>
<path d="M132.1,142.0 L133.1,140.4 L134.3,139.0 L135.7,137.8 L137.3,136.7 L139.0,135.8 L140.6,135.0 L142.2,134.3 L143.9,133.7 L145.7,133.3 L147.5,133.1 L149.2,133.1 L151.0,133.2 L152.7,133.6 L154.5,134.2 L156.3,135.0 L158.0,136.0 L159.5,137.2 L160.7,138.5 L161.8,140.1 L162.6,142.0 L163.3,144.0 L163.8,146.1 L164.1,148.2 L164.3,150.2 L164.3,152.1 L164.1,154.1 L163.8,156.0 L163.3,157.8 L162.6,159.5 L161.6,160.9 L160.3,162.2 L158.8,163.4 L157.0,164.4 L155.0,165.2 L153.0,165.8 L151.0,166.2 L148.8,166.4 L146.3,166.4 L143.7,166.2 L141.3,165.9 L139.0,165.3 L137.2,164.5 L135.7,163.4 L134.5,162.1 L133.5,160.7 L132.8,159.0 L132.2,157.2 L131.7,155.4 L131.3,153.3 L131.1,151.0 L131.0,148.6 L131.2,146.2 L131.5,143.9Z" fill="#c84aa8" opacity="0.85" filter="url(#blur2)"/>
</g>
<path d="M132.3,142.2 L133.2,140.5 L134.5,139.1 L136.0,137.8 L137.6,136.7 L139.3,135.8 L140.9,135.0 L142.6,134.3 L144.3,133.7 L146.1,133.3 L148.0,133.0 L149.8,133.0 L151.5,133.2 L153.3,133.6 L155.2,134.2 L157.0,135.0 L158.7,136.0 L160.2,137.2 L161.5,138.6 L162.6,140.2 L163.4,142.1 L164.1,144.2 L164.6,146.4 L165.0,148.5 L165.1,150.5 L165.1,152.5 L165.0,154.5 L164.7,156.4 L164.2,158.3 L163.4,160.0 L162.4,161.5 L161.1,162.8 L159.5,164.0 L157.7,165.0 L155.7,165.8 L153.6,166.5 L151.5,166.9 L149.3,167.1 L146.8,167.1 L144.1,166.9 L141.6,166.5 L139.3,165.9 L137.4,165.1 L135.9,164.0 L134.7,162.7 L133.7,161.2 L132.9,159.5 L132.3,157.7 L131.8,155.8 L131.5,153.7 L131.2,151.4 L131.2,148.9 L131.3,146.4 L131.7,144.1Z" fill="url(#nucO)" filter="url(#mottle1)"/>
<path d="M135.1,143.5 L135.9,142.2 L136.9,141.0 L138.2,140.0 L139.5,139.1 L140.9,138.3 L142.2,137.6 L143.6,137.0 L145.0,136.6 L146.5,136.2 L148.0,136.0 L149.5,136.0 L151.0,136.1 L152.4,136.5 L153.9,137.0 L155.4,137.6 L156.8,138.5 L158.1,139.4 L159.2,140.6 L160.0,141.9 L160.7,143.5 L161.3,145.2 L161.7,147.0 L162.0,148.8 L162.1,150.4 L162.1,152.0 L162.0,153.6 L161.8,155.3 L161.3,156.8 L160.7,158.2 L159.9,159.4 L158.8,160.5 L157.5,161.5 L156.0,162.3 L154.4,163.0 L152.7,163.5 L151.0,163.9 L149.1,164.0 L147.0,164.0 L144.9,163.9 L142.8,163.6 L140.9,163.1 L139.3,162.4 L138.1,161.5 L137.1,160.4 L136.3,159.2 L135.7,157.8 L135.2,156.3 L134.8,154.8 L134.5,153.0 L134.3,151.1 L134.2,149.0 L134.3,147.0 L134.6,145.1Z" fill="url(#nucY)" filter="url(#spk1)"/>
</g>
<rect x="43" y="102" width="272" height="1" fill="#b8b8b8"/>
<rect x="202.5" y="18.5" width="69" height="54" fill="none" stroke="#d0d0d0" stroke-width="1.4" stroke-dasharray="3.2,2"/>
<rect x="202.5" y="117.5" width="69" height="53" fill="none" stroke="#d0d0d0" stroke-width="1.4" stroke-dasharray="3.2,2"/>
<line x1="49" y1="60.8" x2="304" y2="38.7" stroke="#e01818" stroke-width="1.7" stroke-dasharray="5,3"/>
<path d="M309,38 L303.3,41.5 L302.8,35.5 Z" fill="#e01818"/>
<line x1="49" y1="159.8" x2="304" y2="137.2" stroke="#e01818" stroke-width="1.7" stroke-dasharray="5,3"/>
<path d="M309,136.5 L303.3,140.0 L302.8,134.0 Z" fill="#e01818"/>
<text x="48.5" y="19.3" font-size="12.5" fill="#fff" text-anchor="start"  stroke="#fff" stroke-width="0.35">A</text>
<text x="60" y="52.4" font-size="12.5" fill="#fff" text-anchor="start" textLength="37.5" lengthAdjust="spacingAndGlyphs"  stroke="#fff" stroke-width="0.35">Profile</text>
<text x="133.3" y="95.5" font-size="12.5" fill="#fff" text-anchor="start" textLength="98.3" lengthAdjust="spacingAndGlyphs"  stroke="#fff" stroke-width="0.35">Excitation 850nm</text>
<text x="48.5" y="119.8" font-size="12.5" fill="#fff" text-anchor="start"  stroke="#fff" stroke-width="0.35">B</text>
<text x="133.6" y="195.8" font-size="12.5" fill="#fff" text-anchor="start" textLength="105" lengthAdjust="spacingAndGlyphs"  stroke="#fff" stroke-width="0.35">Excitation 1050nm</text>
<rect x="55.6" y="194.3" width="24.7" height="2" fill="#f0f0f0"/>
<rect x="318" y="2" width="11" height="201" fill="url(#cbar)" stroke="#000" stroke-width="2"/>
<text transform="translate(19,134.6) rotate(-90)" font-size="12.5" fill="#000" textLength="92.7" lengthAdjust="spacingAndGlyphs" stroke="#000" stroke-width="0.22">Intensity Images</text>
<text transform="translate(40,81.3) rotate(-90)" font-size="12.5" fill="#000" textLength="67" lengthAdjust="spacingAndGlyphs" stroke="#000" stroke-width="0.22">Exc. 850 nm</text>
<text transform="translate(40,172.3) rotate(-90)" font-size="12.5" fill="#000" textLength="75.7" lengthAdjust="spacingAndGlyphs" stroke="#000" stroke-width="0.22">Exc. 1050 nm</text>
<text transform="translate(341.5,29) rotate(-90)" font-size="12" fill="#000" textLength="26.4" lengthAdjust="spacingAndGlyphs" stroke="#000" stroke-width="0.22">Max</text>
<text transform="translate(341.5,161) rotate(-90)" font-size="12" fill="#000" textLength="104.6" lengthAdjust="spacingAndGlyphs" stroke="#000" stroke-width="0.22">Emission Intensity</text>
<text transform="translate(340.8,204.5) rotate(-90)" font-size="12" stroke="#000" stroke-width="0.22">0</text>
<rect x="48" y="212.5" width="272" height="176.5" fill="none" stroke="#888" stroke-width="1.3"/>
<line x1="48" y1="388.9" x2="51.5" y2="388.9" stroke="#888" stroke-width="1.2"/>
<text x="42.3" y="393.7" font-size="11.5" fill="#000" text-anchor="end" textLength="16" lengthAdjust="spacingAndGlyphs"  stroke="#000" stroke-width="0.22">0.0</text>
<line x1="48" y1="360.2" x2="51.5" y2="360.2" stroke="#888" stroke-width="1.2"/>
<text x="42.3" y="365.05" font-size="11.5" fill="#000" text-anchor="end" textLength="16" lengthAdjust="spacingAndGlyphs"  stroke="#000" stroke-width="0.22">0.2</text>
<line x1="48" y1="331.6" x2="51.5" y2="331.6" stroke="#888" stroke-width="1.2"/>
<text x="42.3" y="336.4" font-size="11.5" fill="#000" text-anchor="end" textLength="16" lengthAdjust="spacingAndGlyphs"  stroke="#000" stroke-width="0.22">0.4</text>
<line x1="48" y1="302.9" x2="51.5" y2="302.9" stroke="#888" stroke-width="1.2"/>
<text x="42.3" y="307.74999999999994" font-size="11.5" fill="#000" text-anchor="end" textLength="16" lengthAdjust="spacingAndGlyphs"  stroke="#000" stroke-width="0.22">0.6</text>
<line x1="48" y1="274.3" x2="51.5" y2="274.3" stroke="#888" stroke-width="1.2"/>
<text x="42.3" y="279.09999999999997" font-size="11.5" fill="#000" text-anchor="end" textLength="16" lengthAdjust="spacingAndGlyphs"  stroke="#000" stroke-width="0.22">0.8</text>
<line x1="48" y1="245.6" x2="51.5" y2="245.6" stroke="#888" stroke-width="1.2"/>
<text x="42.3" y="250.45" font-size="11.5" fill="#000" text-anchor="end" textLength="16" lengthAdjust="spacingAndGlyphs"  stroke="#000" stroke-width="0.22">1.0</text>
<line x1="48" y1="217.0" x2="51.5" y2="217.0" stroke="#888" stroke-width="1.2"/>
<text x="42.3" y="221.79999999999995" font-size="11.5" fill="#000" text-anchor="end" textLength="16" lengthAdjust="spacingAndGlyphs"  stroke="#000" stroke-width="0.22">1.2</text>
<line x1="48.0" y1="389" x2="48.0" y2="392.5" stroke="#888" stroke-width="1.2"/>
<text x="48.0" y="410" font-size="11.5" fill="#000" text-anchor="middle" textLength="6" lengthAdjust="spacingAndGlyphs"  stroke="#000" stroke-width="0.22">0</text>
<line x1="99.8" y1="389" x2="99.8" y2="392.5" stroke="#888" stroke-width="1.2"/>
<text x="99.8" y="410" font-size="11.5" fill="#000" text-anchor="middle" textLength="12" lengthAdjust="spacingAndGlyphs"  stroke="#000" stroke-width="0.22">20</text>
<line x1="151.6" y1="389" x2="151.6" y2="392.5" stroke="#888" stroke-width="1.2"/>
<text x="151.6" y="410" font-size="11.5" fill="#000" text-anchor="middle" textLength="12" lengthAdjust="spacingAndGlyphs"  stroke="#000" stroke-width="0.22">40</text>
<line x1="203.4" y1="389" x2="203.4" y2="392.5" stroke="#888" stroke-width="1.2"/>
<text x="203.39999999999998" y="410" font-size="11.5" fill="#000" text-anchor="middle" textLength="12" lengthAdjust="spacingAndGlyphs"  stroke="#000" stroke-width="0.22">60</text>
<line x1="255.2" y1="389" x2="255.2" y2="392.5" stroke="#888" stroke-width="1.2"/>
<text x="255.2" y="410" font-size="11.5" fill="#000" text-anchor="middle" textLength="12" lengthAdjust="spacingAndGlyphs"  stroke="#000" stroke-width="0.22">80</text>
<line x1="307.0" y1="389" x2="307.0" y2="392.5" stroke="#888" stroke-width="1.2"/>
<text x="307.0" y="410" font-size="11.5" fill="#000" text-anchor="middle" textLength="17.6" lengthAdjust="spacingAndGlyphs"  stroke="#000" stroke-width="0.22">100</text>
<text x="145.5" y="425.3" font-size="12.5" fill="#000" text-anchor="start" textLength="77.7" lengthAdjust="spacingAndGlyphs"  stroke="#000" stroke-width="0.22">Distance (&#956;m)</text>
<text transform="translate(20,359) rotate(-90)" font-size="12.5" fill="#000" textLength="115.7" lengthAdjust="spacingAndGlyphs" stroke="#000" stroke-width="0.22">Normalized Intensity</text>
<text x="53" y="231" font-size="13" fill="#000" text-anchor="start"  stroke="#000" stroke-width="0.22">C</text>
<text x="92.8" y="239.8" font-size="11" fill="#000" text-anchor="start" textLength="25.6" lengthAdjust="spacingAndGlyphs"  stroke="#000" stroke-width="0.22">EGFP</text>
<text x="182.5" y="292.2" font-size="11" fill="#000" text-anchor="start" textLength="52.3" lengthAdjust="spacingAndGlyphs"  stroke="#000" stroke-width="0.22">TPPc-EGFP</text>
<text x="242.1" y="227.1" font-size="11.5" fill="#000" text-anchor="start" textLength="75" lengthAdjust="spacingAndGlyphs"  stroke="#000" stroke-width="0.22">Excitation (nm)</text>
<line x1="266.5" y1="239.5" x2="287.7" y2="239.5" stroke="#4a944a" stroke-width="1.3"/>
<text x="292.5" y="242.9" font-size="9.5" fill="#000" text-anchor="start" textLength="13.5" lengthAdjust="spacingAndGlyphs"  stroke="#000" stroke-width="0.12">850</text>
<line x1="266.5" y1="251.9" x2="287.7" y2="251.9" stroke="#55e855" stroke-width="1.3"/>
<text x="292.5" y="255.26000000000002" font-size="9.5" fill="#000" text-anchor="start" textLength="13.5" lengthAdjust="spacingAndGlyphs"  stroke="#000" stroke-width="0.12">900</text>
<line x1="266.5" y1="264.2" x2="287.7" y2="264.2" stroke="#d8c888" stroke-width="1.3"/>
<text x="292.5" y="267.62" font-size="9.5" fill="#000" text-anchor="start" textLength="13.5" lengthAdjust="spacingAndGlyphs"  stroke="#000" stroke-width="0.12">960</text>
<line x1="266.5" y1="276.6" x2="287.7" y2="276.6" stroke="#ffe070" stroke-width="1.3"/>
<text x="292.5" y="279.97999999999996" font-size="9.5" fill="#000" text-anchor="start" textLength="13.5" lengthAdjust="spacingAndGlyphs"  stroke="#000" stroke-width="0.12">990</text>
<line x1="266.5" y1="288.9" x2="287.7" y2="288.9" stroke="#ffb49a" stroke-width="1.3"/>
<text x="292.5" y="292.34" font-size="9.5" fill="#000" text-anchor="start" textLength="18.7" lengthAdjust="spacingAndGlyphs"  stroke="#000" stroke-width="0.12">1000</text>
<line x1="266.5" y1="301.3" x2="287.7" y2="301.3" stroke="#ff3a3a" stroke-width="1.3"/>
<text x="292.5" y="304.7" font-size="9.5" fill="#000" text-anchor="start" textLength="18.7" lengthAdjust="spacingAndGlyphs"  stroke="#000" stroke-width="0.12">1050</text>
<g clip-path="url(#clipC)">
<path d="M48.0,388.2 L48.6,388.6 L49.3,388.7 L49.9,388.9 L50.6,388.5 L51.2,388.7 L51.9,388.0 L52.5,388.7 L53.2,388.8 L53.8,388.7 L54.5,388.3 L55.1,388.4 L55.8,388.7 L56.4,388.6 L57.1,388.8 L57.7,388.0 L58.4,388.9 L59.0,388.5 L59.7,388.9 L60.3,388.2 L61.0,388.3 L61.6,388.1 L62.2,388.7 L62.9,388.5 L63.5,388.7 L64.2,388.7 L64.8,388.6 L65.5,388.8 L66.1,388.6 L66.8,388.0 L67.4,388.8 L68.1,388.7 L68.7,388.3 L69.4,388.2 L70.0,388.4 L70.7,388.8 L71.3,388.4 L72.0,388.8 L72.6,387.9 L73.3,388.2 L73.9,388.9 L74.5,387.4 L75.2,388.1 L75.8,387.5 L76.5,388.8 L77.1,388.3 L77.8,388.0 L78.4,388.9 L79.1,388.6 L79.7,388.5 L80.4,388.0 L81.0,388.6 L81.7,388.4 L82.3,388.7 L83.0,388.6 L83.6,388.8 L84.3,388.6 L84.9,388.7 L85.6,388.9 L86.2,388.6 L86.8,388.4 L87.5,388.6 L88.1,388.6 L88.8,387.9 L89.4,388.3 L90.1,388.8 L90.7,388.7 L91.4,388.2 L92.0,388.0 L92.7,386.8 L93.3,386.3 L94.0,385.0 L94.6,384.9 L95.3,383.4 L95.9,380.6 L96.6,377.2 L97.2,374.3 L97.9,371.7 L98.5,369.7 L99.2,368.5 L99.8,367.5 L100.4,367.7 L101.1,366.6 L101.7,364.6 L102.4,359.7 L103.0,356.2 L103.7,355.7 L104.3,350.9 L105.0,348.5 L105.6,348.2 L106.3,343.9 L106.9,343.9 L107.6,342.8 L108.2,340.6 L108.9,335.8 L109.5,332.6 L110.2,325.9 L110.8,323.7 L111.5,322.3 L112.1,326.2 L112.8,328.8 L113.4,327.3 L114.0,327.6 L114.7,323.3 L115.3,321.9 L116.0,321.7 L116.6,318.1 L117.3,312.8 L117.9,310.1 L118.6,303.3 L119.2,302.1 L119.9,289.5 L120.5,287.7 L121.2,278.5 L121.8,272.0 L122.5,269.8 L123.1,259.5 L123.8,262.4 L124.4,255.3 L125.1,244.9 L125.7,249.7 L126.3,246.8 L127.0,248.6 L127.6,238.9 L128.3,252.6 L128.9,242.0 L129.6,238.7 L130.2,241.3 L130.9,247.4 L131.5,246.1 L132.2,245.3 L132.8,257.0 L133.5,246.9 L134.1,254.5 L134.8,254.0 L135.4,259.5 L136.1,262.9 L136.7,250.5 L137.4,253.8 L138.0,237.1 L138.6,229.4 L139.3,224.7 L139.9,231.3 L140.6,233.2 L141.2,228.3 L141.9,226.6 L142.5,219.7 L143.2,227.3 L143.8,236.2 L144.5,234.5 L145.1,243.9 L145.8,247.6 L146.4,257.1 L147.1,249.3 L147.7,252.7 L148.4,262.7 L149.0,260.6 L149.7,268.2 L150.3,281.4 L151.0,286.9 L151.6,302.6 L152.2,317.6 L152.9,321.1 L153.5,322.8 L154.2,324.5 L154.8,326.9 L155.5,325.7 L156.1,331.1 L156.8,336.0 L157.4,336.3 L158.1,342.2 L158.7,348.3 L159.4,353.2 L160.0,357.6 L160.7,363.2 L161.3,369.7 L162.0,372.9 L162.6,376.2 L163.3,379.4 L163.9,382.4 L164.6,386.5 L165.2,386.7 L165.8,387.4 L166.5,387.4 L167.1,388.9 L167.8,388.6 L168.4,388.7 L169.1,388.6 L169.7,388.6 L170.4,387.9 L171.0,387.9 L171.7,387.3 L172.3,388.0 L173.0,388.9 L173.6,388.3 L174.3,387.9 L174.9,387.8 L175.6,388.7 L176.2,388.2 L176.9,388.2 L177.5,388.5 L178.1,388.0 L178.8,388.6 L179.4,388.5 L180.1,388.4 L180.7,388.2 L181.4,388.8 L182.0,388.6 L182.7,388.8 L183.3,388.2 L184.0,388.1 L184.6,388.6 L185.3,388.9 L185.9,388.9 L186.6,388.0 L187.2,388.8 L187.9,388.0 L188.5,388.8 L189.2,388.6 L189.8,388.2 L190.4,388.3 L191.1,388.6 L191.7,388.0 L192.4,388.6 L193.0,388.6 L193.7,388.9 L194.3,388.8 L195.0,388.6 L195.6,388.1 L196.3,388.4 L196.9,386.6 L197.6,386.0 L198.2,385.6 L198.9,384.2 L199.5,383.6 L200.2,382.5 L200.8,382.6 L201.5,381.1 L202.1,380.1 L202.8,378.0 L203.4,378.1 L204.0,375.6 L204.7,374.5 L205.3,374.8 L206.0,373.9 L206.6,373.0 L207.3,371.5 L207.9,369.9 L208.6,368.5 L209.2,364.2 L209.9,365.1 L210.5,360.3 L211.2,361.8 L211.8,357.6 L212.5,359.6 L213.1,355.8 L213.8,359.0 L214.4,351.0 L215.1,353.8 L215.7,352.9 L216.3,355.0 L217.0,353.4 L217.6,348.3 L218.3,350.0 L218.9,352.4 L219.6,350.6 L220.2,351.9 L220.9,356.4 L221.5,351.2 L222.2,350.5 L222.8,354.0 L223.5,353.5 L224.1,353.3 L224.8,354.8 L225.4,352.6 L226.1,349.4 L226.7,350.1 L227.4,349.8 L228.0,348.9 L228.7,346.2 L229.3,354.7 L229.9,351.6 L230.6,352.0 L231.2,352.5 L231.9,352.4 L232.5,352.5 L233.2,354.2 L233.8,351.2 L234.5,353.4 L235.1,355.2 L235.8,354.9 L236.4,356.6 L237.1,357.4 L237.7,357.7 L238.4,359.8 L239.0,358.2 L239.7,360.7 L240.3,362.9 L241.0,364.9 L241.6,365.4 L242.2,366.0 L242.9,368.7 L243.5,367.6 L244.2,371.0 L244.8,373.1 L245.5,372.7 L246.1,375.8 L246.8,377.8 L247.4,378.7 L248.1,380.3 L248.7,382.6 L249.4,384.1 L250.0,384.7 L250.7,385.3 L251.3,386.6 L252.0,386.5 L252.6,388.4 L253.3,388.5 L253.9,388.6 L254.6,387.5 L255.2,388.2 L255.8,387.9 L256.5,387.5 L257.1,388.4 L257.8,388.8 L258.4,388.4 L259.1,388.9 L259.7,388.0 L260.4,388.8 L261.0,388.5 L261.7,388.3 L262.3,388.0 L263.0,388.5 L263.6,387.9 L264.3,388.8 L264.9,387.1 L265.6,388.8 L266.2,387.8 L266.9,388.6 L267.5,388.7 L268.1,388.4 L268.8,388.2 L269.4,388.2 L270.1,387.9 L270.7,388.5 L271.4,388.0 L272.0,388.8 L272.7,388.5 L273.3,388.9 L274.0,388.7 L274.6,388.6 L275.3,388.6 L275.9,388.1 L276.6,388.1 L277.2,388.8 L277.9,388.6 L278.5,388.9 L279.2,388.3 L279.8,388.8 L280.5,388.4 L281.1,388.2 L281.7,388.5 L282.4,388.9 L283.0,388.6 L283.7,388.0 L284.3,388.7 L285.0,387.9 L285.6,388.5 L286.3,388.2 L286.9,388.4 L287.6,388.9 L288.2,388.2 L288.9,388.1 L289.5,388.5 L290.2,388.0 L290.8,388.8 L291.5,388.6 L292.1,388.2 L292.8,388.5 L293.4,388.7 L294.0,388.8 L294.7,388.4 L295.3,388.7 L296.0,388.0 L296.6,388.2 L297.3,388.5 L297.9,388.4 L298.6,388.3 L299.2,388.9 L299.9,388.6 L300.5,388.4 L301.2,388.4 L301.8,388.6 L302.5,387.9 L303.1,388.8 L303.8,387.8 L304.4,388.6 L305.1,388.6 L305.7,388.0 L306.4,388.8 L307.0,388.8" fill="none" stroke="#2a7a2a" stroke-width="0.9"/>
<path d="M48.0,388.7 L48.6,388.4 L49.3,388.4 L49.9,388.6 L50.6,388.4 L51.2,388.1 L51.9,387.4 L52.5,388.6 L53.2,388.8 L53.8,388.3 L54.5,388.6 L55.1,388.3 L55.8,388.8 L56.4,387.4 L57.1,388.6 L57.7,388.8 L58.4,388.4 L59.0,388.3 L59.7,388.2 L60.3,388.1 L61.0,387.5 L61.6,388.1 L62.2,388.9 L62.9,388.6 L63.5,388.2 L64.2,388.8 L64.8,388.9 L65.5,388.7 L66.1,388.7 L66.8,388.5 L67.4,388.1 L68.1,388.8 L68.7,387.8 L69.4,388.3 L70.0,388.6 L70.7,388.1 L71.3,388.4 L72.0,388.7 L72.6,388.7 L73.3,388.7 L73.9,388.6 L74.5,388.4 L75.2,388.7 L75.8,388.2 L76.5,388.0 L77.1,388.8 L77.8,388.8 L78.4,388.1 L79.1,388.2 L79.7,388.5 L80.4,388.8 L81.0,388.8 L81.7,388.8 L82.3,388.2 L83.0,388.6 L83.6,388.1 L84.3,388.8 L84.9,388.8 L85.6,388.6 L86.2,387.2 L86.8,388.5 L87.5,388.2 L88.1,388.5 L88.8,388.9 L89.4,388.4 L90.1,388.6 L90.7,388.8 L91.4,387.7 L92.0,387.3 L92.7,387.2 L93.3,385.6 L94.0,385.2 L94.6,385.0 L95.3,383.0 L95.9,379.5 L96.6,377.1 L97.2,374.7 L97.9,371.7 L98.5,370.0 L99.2,368.3 L99.8,369.4 L100.4,365.4 L101.1,366.1 L101.7,363.0 L102.4,360.7 L103.0,356.9 L103.7,353.9 L104.3,353.1 L105.0,351.2 L105.6,345.6 L106.3,343.9 L106.9,346.0 L107.6,341.9 L108.2,336.9 L108.9,335.3 L109.5,333.3 L110.2,330.1 L110.8,322.1 L111.5,325.8 L112.1,326.3 L112.8,328.1 L113.4,328.2 L114.0,326.1 L114.7,324.6 L115.3,320.5 L116.0,320.1 L116.6,316.4 L117.3,309.0 L117.9,303.2 L118.6,301.6 L119.2,294.6 L119.9,282.9 L120.5,284.3 L121.2,283.2 L121.8,266.8 L122.5,258.5 L123.1,254.3 L123.8,258.6 L124.4,256.4 L125.1,257.4 L125.7,250.5 L126.3,257.3 L127.0,254.6 L127.6,240.2 L128.3,248.9 L128.9,244.1 L129.6,243.6 L130.2,246.9 L130.9,252.1 L131.5,251.3 L132.2,247.9 L132.8,246.1 L133.5,259.1 L134.1,263.0 L134.8,263.9 L135.4,260.1 L136.1,263.5 L136.7,248.1 L137.4,248.7 L138.0,239.5 L138.6,231.9 L139.3,228.0 L139.9,230.8 L140.6,236.3 L141.2,229.7 L141.9,229.0 L142.5,221.5 L143.2,229.5 L143.8,230.8 L144.5,244.6 L145.1,246.4 L145.8,260.0 L146.4,249.1 L147.1,263.2 L147.7,252.5 L148.4,260.6 L149.0,259.0 L149.7,269.2 L150.3,275.0 L151.0,291.0 L151.6,303.7 L152.2,319.5 L152.9,322.7 L153.5,323.9 L154.2,322.3 L154.8,328.2 L155.5,329.2 L156.1,332.1 L156.8,335.5 L157.4,337.7 L158.1,346.2 L158.7,349.3 L159.4,355.3 L160.0,360.0 L160.7,363.6 L161.3,369.3 L162.0,374.1 L162.6,377.4 L163.3,380.2 L163.9,383.8 L164.6,385.6 L165.2,387.6 L165.8,388.3 L166.5,388.7 L167.1,388.6 L167.8,388.8 L168.4,388.8 L169.1,388.4 L169.7,388.4 L170.4,388.9 L171.0,388.1 L171.7,388.9 L172.3,388.9 L173.0,388.4 L173.6,388.8 L174.3,388.8 L174.9,388.9 L175.6,388.8 L176.2,388.7 L176.9,388.5 L177.5,387.9 L178.1,388.5 L178.8,388.7 L179.4,388.3 L180.1,388.1 L180.7,388.0 L181.4,388.3 L182.0,388.4 L182.7,388.3 L183.3,387.4 L184.0,388.6 L184.6,388.2 L185.3,388.6 L185.9,388.6 L186.6,388.8 L187.2,388.7 L187.9,388.4 L188.5,388.1 L189.2,388.7 L189.8,388.4 L190.4,388.7 L191.1,388.5 L191.7,387.9 L192.4,388.9 L193.0,387.7 L193.7,388.2 L194.3,388.6 L195.0,387.9 L195.6,388.8 L196.3,387.9 L196.9,386.6 L197.6,385.7 L198.2,384.7 L198.9,383.9 L199.5,382.3 L200.2,381.3 L200.8,379.1 L201.5,378.7 L202.1,378.2 L202.8,377.7 L203.4,375.2 L204.0,374.5 L204.7,372.8 L205.3,371.3 L206.0,368.5 L206.6,367.2 L207.3,367.0 L207.9,365.5 L208.6,365.1 L209.2,363.9 L209.9,360.8 L210.5,358.4 L211.2,357.1 L211.8,357.2 L212.5,352.6 L213.1,349.9 L213.8,347.2 L214.4,346.4 L215.1,346.6 L215.7,345.4 L216.3,347.0 L217.0,342.8 L217.6,343.4 L218.3,342.7 L218.9,343.2 L219.6,345.2 L220.2,345.3 L220.9,346.5 L221.5,344.4 L222.2,348.7 L222.8,347.9 L223.5,347.1 L224.1,346.9 L224.8,347.1 L225.4,342.4 L226.1,341.2 L226.7,342.8 L227.4,342.9 L228.0,344.9 L228.7,340.6 L229.3,349.1 L229.9,347.7 L230.6,348.7 L231.2,348.8 L231.9,344.5 L232.5,343.4 L233.2,346.8 L233.8,345.3 L234.5,348.4 L235.1,349.8 L235.8,350.6 L236.4,348.7 L237.1,349.5 L237.7,353.2 L238.4,356.0 L239.0,355.2 L239.7,355.6 L240.3,358.5 L241.0,359.9 L241.6,360.9 L242.2,364.2 L242.9,364.9 L243.5,367.4 L244.2,364.8 L244.8,368.1 L245.5,373.3 L246.1,372.7 L246.8,375.1 L247.4,376.5 L248.1,379.9 L248.7,381.5 L249.4,382.8 L250.0,384.7 L250.7,385.3 L251.3,385.9 L252.0,387.4 L252.6,388.3 L253.3,388.6 L253.9,388.3 L254.6,388.6 L255.2,388.3 L255.8,388.2 L256.5,388.9 L257.1,388.3 L257.8,388.7 L258.4,388.9 L259.1,388.4 L259.7,388.2 L260.4,388.5 L261.0,388.7 L261.7,388.5 L262.3,388.4 L263.0,388.0 L263.6,388.8 L264.3,388.6 L264.9,388.3 L265.6,388.5 L266.2,388.2 L266.9,388.9 L267.5,388.1 L268.1,388.6 L268.8,388.1 L269.4,388.7 L270.1,388.0 L270.7,388.8 L271.4,388.4 L272.0,388.4 L272.7,388.2 L273.3,387.9 L274.0,388.6 L274.6,388.5 L275.3,388.1 L275.9,388.8 L276.6,388.6 L277.2,388.4 L277.9,388.4 L278.5,388.5 L279.2,388.4 L279.8,387.7 L280.5,388.2 L281.1,388.4 L281.7,388.8 L282.4,388.4 L283.0,388.7 L283.7,388.3 L284.3,388.0 L285.0,388.5 L285.6,388.9 L286.3,388.9 L286.9,388.4 L287.6,388.5 L288.2,388.7 L288.9,388.8 L289.5,388.1 L290.2,388.5 L290.8,388.2 L291.5,388.5 L292.1,388.6 L292.8,388.6 L293.4,388.8 L294.0,388.0 L294.7,388.7 L295.3,388.6 L296.0,388.5 L296.6,388.4 L297.3,388.7 L297.9,388.5 L298.6,388.0 L299.2,387.8 L299.9,388.4 L300.5,388.0 L301.2,388.2 L301.8,388.8 L302.5,387.4 L303.1,388.3 L303.8,388.5 L304.4,388.1 L305.1,388.2 L305.7,388.6 L306.4,388.2 L307.0,388.9" fill="none" stroke="#33dd33" stroke-width="0.9"/>
<path d="M48.0,388.5 L48.6,388.6 L49.3,387.7 L49.9,388.4 L50.6,388.5 L51.2,388.6 L51.9,388.3 L52.5,388.9 L53.2,388.9 L53.8,388.5 L54.5,388.5 L55.1,388.5 L55.8,388.8 L56.4,388.6 L57.1,388.3 L57.7,388.7 L58.4,388.9 L59.0,388.7 L59.7,388.7 L60.3,388.5 L61.0,388.1 L61.6,388.7 L62.2,388.1 L62.9,388.7 L63.5,387.6 L64.2,388.5 L64.8,388.2 L65.5,388.0 L66.1,388.6 L66.8,388.6 L67.4,388.8 L68.1,388.7 L68.7,388.4 L69.4,388.3 L70.0,388.1 L70.7,388.3 L71.3,388.7 L72.0,388.4 L72.6,388.4 L73.3,387.6 L73.9,387.5 L74.5,388.6 L75.2,387.6 L75.8,388.4 L76.5,388.4 L77.1,388.3 L77.8,388.9 L78.4,388.6 L79.1,388.4 L79.7,387.9 L80.4,388.6 L81.0,388.7 L81.7,388.9 L82.3,387.5 L83.0,388.8 L83.6,388.3 L84.3,388.4 L84.9,388.4 L85.6,388.9 L86.2,388.5 L86.8,388.7 L87.5,388.5 L88.1,388.7 L88.8,388.8 L89.4,387.9 L90.1,388.2 L90.7,388.6 L91.4,388.2 L92.0,386.8 L92.7,387.1 L93.3,386.3 L94.0,385.6 L94.6,385.0 L95.3,382.3 L95.9,378.4 L96.6,376.5 L97.2,374.1 L97.9,370.5 L98.5,370.1 L99.2,367.8 L99.8,367.7 L100.4,365.8 L101.1,366.6 L101.7,361.3 L102.4,359.5 L103.0,355.6 L103.7,354.1 L104.3,352.3 L105.0,347.7 L105.6,345.9 L106.3,346.4 L106.9,345.2 L107.6,343.0 L108.2,339.3 L108.9,334.2 L109.5,328.2 L110.2,324.9 L110.8,320.7 L111.5,323.2 L112.1,326.6 L112.8,325.3 L113.4,328.3 L114.0,329.0 L114.7,323.4 L115.3,319.1 L116.0,318.0 L116.6,310.6 L117.3,308.3 L117.9,304.5 L118.6,298.0 L119.2,294.0 L119.9,287.8 L120.5,278.5 L121.2,270.4 L121.8,262.1 L122.5,269.5 L123.1,262.7 L123.8,248.9 L124.4,254.1 L125.1,251.8 L125.7,252.5 L126.3,248.7 L127.0,240.8 L127.6,245.1 L128.3,240.3 L128.9,242.8 L129.6,238.0 L130.2,242.4 L130.9,256.4 L131.5,244.0 L132.2,257.0 L132.8,258.3 L133.5,252.1 L134.1,260.3 L134.8,261.5 L135.4,254.6 L136.1,246.9 L136.7,252.7 L137.4,241.0 L138.0,238.2 L138.6,231.7 L139.3,219.9 L139.9,222.5 L140.6,226.8 L141.2,222.3 L141.9,229.8 L142.5,235.0 L143.2,225.8 L143.8,237.5 L144.5,242.9 L145.1,252.2 L145.8,253.9 L146.4,252.3 L147.1,252.3 L147.7,260.7 L148.4,263.0 L149.0,268.0 L149.7,275.9 L150.3,284.1 L151.0,290.8 L151.6,307.0 L152.2,320.7 L152.9,320.7 L153.5,325.5 L154.2,326.6 L154.8,328.0 L155.5,332.2 L156.1,336.5 L156.8,337.5 L157.4,340.5 L158.1,345.5 L158.7,350.0 L159.4,354.6 L160.0,360.2 L160.7,365.6 L161.3,370.1 L162.0,374.6 L162.6,378.2 L163.3,380.9 L163.9,384.6 L164.6,386.9 L165.2,387.2 L165.8,388.1 L166.5,388.5 L167.1,388.2 L167.8,388.7 L168.4,388.3 L169.1,388.8 L169.7,388.0 L170.4,388.1 L171.0,388.5 L171.7,388.9 L172.3,388.9 L173.0,388.5 L173.6,388.5 L174.3,388.9 L174.9,388.5 L175.6,387.7 L176.2,388.1 L176.9,388.6 L177.5,388.3 L178.1,388.8 L178.8,388.3 L179.4,388.2 L180.1,388.4 L180.7,388.5 L181.4,388.7 L182.0,388.2 L182.7,388.8 L183.3,388.5 L184.0,388.3 L184.6,388.7 L185.3,388.6 L185.9,388.5 L186.6,388.2 L187.2,388.6 L187.9,388.0 L188.5,388.5 L189.2,388.6 L189.8,388.6 L190.4,388.5 L191.1,388.4 L191.7,388.8 L192.4,388.0 L193.0,388.7 L193.7,388.0 L194.3,388.6 L195.0,388.4 L195.6,387.3 L196.3,386.1 L196.9,384.9 L197.6,382.6 L198.2,382.0 L198.9,380.2 L199.5,379.7 L200.2,378.8 L200.8,375.5 L201.5,375.6 L202.1,372.6 L202.8,371.8 L203.4,370.8 L204.0,368.6 L204.7,368.4 L205.3,365.1 L206.0,365.9 L206.6,365.8 L207.3,363.2 L207.9,363.4 L208.6,361.8 L209.2,358.4 L209.9,358.8 L210.5,357.7 L211.2,354.6 L211.8,350.7 L212.5,349.4 L213.1,351.1 L213.8,347.6 L214.4,341.6 L215.1,344.5 L215.7,337.8 L216.3,343.5 L217.0,335.8 L217.6,337.3 L218.3,338.9 L218.9,339.3 L219.6,344.5 L220.2,343.6 L220.9,341.1 L221.5,343.7 L222.2,345.8 L222.8,341.0 L223.5,342.6 L224.1,339.7 L224.8,339.1 L225.4,341.3 L226.1,337.0 L226.7,333.4 L227.4,338.2 L228.0,340.1 L228.7,339.7 L229.3,335.8 L229.9,342.9 L230.6,342.3 L231.2,338.2 L231.9,338.7 L232.5,344.9 L233.2,343.2 L233.8,344.4 L234.5,344.5 L235.1,345.8 L235.8,344.8 L236.4,344.5 L237.1,349.1 L237.7,349.0 L238.4,352.0 L239.0,351.3 L239.7,356.2 L240.3,354.8 L241.0,354.9 L241.6,356.7 L242.2,360.5 L242.9,361.4 L243.5,362.7 L244.2,366.2 L244.8,365.4 L245.5,365.9 L246.1,370.2 L246.8,370.4 L247.4,372.0 L248.1,375.0 L248.7,376.5 L249.4,377.7 L250.0,379.9 L250.7,381.8 L251.3,382.9 L252.0,385.0 L252.6,386.7 L253.3,387.6 L253.9,388.4 L254.6,388.8 L255.2,388.7 L255.8,388.5 L256.5,388.4 L257.1,388.7 L257.8,388.4 L258.4,388.5 L259.1,388.5 L259.7,388.8 L260.4,388.5 L261.0,388.8 L261.7,387.7 L262.3,388.6 L263.0,388.7 L263.6,388.0 L264.3,387.9 L264.9,388.6 L265.6,388.3 L266.2,388.8 L266.9,388.7 L267.5,388.9 L268.1,388.8 L268.8,388.5 L269.4,388.1 L270.1,388.8 L270.7,388.6 L271.4,388.6 L272.0,388.0 L272.7,387.4 L273.3,388.6 L274.0,388.9 L274.6,388.6 L275.3,388.3 L275.9,388.5 L276.6,388.4 L277.2,388.4 L277.9,388.7 L278.5,388.4 L279.2,388.9 L279.8,388.9 L280.5,387.7 L281.1,388.8 L281.7,388.7 L282.4,388.3 L283.0,388.5 L283.7,388.5 L284.3,387.3 L285.0,388.7 L285.6,388.4 L286.3,388.3 L286.9,387.9 L287.6,388.6 L288.2,388.2 L288.9,388.7 L289.5,388.0 L290.2,388.5 L290.8,388.3 L291.5,388.8 L292.1,388.8 L292.8,388.9 L293.4,387.8 L294.0,388.7 L294.7,388.3 L295.3,388.6 L296.0,388.5 L296.6,388.8 L297.3,388.6 L297.9,388.5 L298.6,388.8 L299.2,388.6 L299.9,388.4 L300.5,388.9 L301.2,388.7 L301.8,387.8 L302.5,388.2 L303.1,388.9 L303.8,388.8 L304.4,388.7 L305.1,388.8 L305.7,388.6 L306.4,388.4 L307.0,388.7" fill="none" stroke="#d0b050" stroke-width="0.9"/>
<path d="M48.0,388.0 L48.6,388.2 L49.3,388.8 L49.9,388.2 L50.6,388.9 L51.2,388.8 L51.9,388.5 L52.5,388.2 L53.2,388.8 L53.8,388.8 L54.5,388.8 L55.1,388.7 L55.8,388.7 L56.4,387.8 L57.1,388.6 L57.7,387.7 L58.4,388.4 L59.0,388.3 L59.7,388.7 L60.3,388.3 L61.0,388.7 L61.6,387.9 L62.2,387.8 L62.9,388.4 L63.5,387.4 L64.2,388.9 L64.8,388.9 L65.5,388.7 L66.1,388.8 L66.8,388.2 L67.4,388.4 L68.1,388.8 L68.7,388.3 L69.4,388.8 L70.0,388.5 L70.7,388.6 L71.3,388.8 L72.0,388.0 L72.6,387.7 L73.3,388.6 L73.9,388.4 L74.5,388.4 L75.2,388.2 L75.8,388.5 L76.5,388.3 L77.1,388.8 L77.8,388.4 L78.4,388.7 L79.1,388.8 L79.7,388.7 L80.4,388.5 L81.0,387.9 L81.7,388.5 L82.3,388.0 L83.0,388.1 L83.6,388.5 L84.3,388.3 L84.9,388.8 L85.6,388.4 L86.2,388.4 L86.8,388.3 L87.5,388.7 L88.1,388.6 L88.8,388.7 L89.4,388.3 L90.1,388.6 L90.7,388.8 L91.4,388.2 L92.0,387.6 L92.7,386.9 L93.3,386.3 L94.0,384.1 L94.6,384.0 L95.3,381.1 L95.9,378.8 L96.6,376.1 L97.2,372.7 L97.9,369.7 L98.5,369.2 L99.2,368.8 L99.8,367.5 L100.4,365.8 L101.1,364.6 L101.7,361.9 L102.4,359.0 L103.0,355.7 L103.7,353.5 L104.3,350.0 L105.0,349.2 L105.6,344.6 L106.3,345.1 L106.9,341.9 L107.6,342.4 L108.2,337.8 L108.9,332.5 L109.5,331.9 L110.2,325.9 L110.8,321.8 L111.5,322.3 L112.1,327.8 L112.8,329.3 L113.4,328.8 L114.0,326.1 L114.7,325.3 L115.3,320.8 L116.0,320.5 L116.6,311.5 L117.3,308.6 L117.9,302.2 L118.6,301.7 L119.2,291.9 L119.9,288.5 L120.5,283.2 L121.2,273.9 L121.8,261.2 L122.5,262.8 L123.1,256.8 L123.8,248.5 L124.4,257.3 L125.1,250.0 L125.7,247.1 L126.3,250.0 L127.0,243.6 L127.6,248.2 L128.3,246.3 L128.9,239.8 L129.6,245.6 L130.2,240.3 L130.9,242.1 L131.5,247.8 L132.2,251.8 L132.8,251.8 L133.5,256.9 L134.1,259.6 L134.8,251.7 L135.4,254.9 L136.1,249.2 L136.7,253.1 L137.4,237.7 L138.0,240.7 L138.6,231.6 L139.3,231.9 L139.9,228.3 L140.6,235.0 L141.2,229.7 L141.9,238.1 L142.5,232.2 L143.2,225.7 L143.8,237.4 L144.5,239.2 L145.1,249.1 L145.8,253.1 L146.4,250.8 L147.1,251.3 L147.7,258.2 L148.4,258.6 L149.0,274.4 L149.7,279.0 L150.3,280.0 L151.0,297.3 L151.6,310.7 L152.2,320.5 L152.9,323.8 L153.5,325.0 L154.2,328.0 L154.8,326.0 L155.5,331.3 L156.1,332.5 L156.8,340.0 L157.4,341.3 L158.1,344.5 L158.7,350.0 L159.4,357.5 L160.0,362.6 L160.7,367.3 L161.3,370.5 L162.0,375.7 L162.6,378.4 L163.3,381.6 L163.9,385.2 L164.6,386.9 L165.2,387.6 L165.8,388.1 L166.5,388.8 L167.1,388.9 L167.8,388.4 L168.4,388.8 L169.1,388.3 L169.7,387.5 L170.4,387.4 L171.0,388.4 L171.7,388.9 L172.3,388.7 L173.0,387.4 L173.6,388.8 L174.3,388.8 L174.9,388.7 L175.6,388.3 L176.2,388.3 L176.9,388.5 L177.5,388.6 L178.1,388.0 L178.8,388.5 L179.4,388.6 L180.1,388.4 L180.7,388.9 L181.4,388.6 L182.0,388.0 L182.7,388.6 L183.3,387.5 L184.0,388.2 L184.6,388.6 L185.3,387.9 L185.9,388.7 L186.6,388.3 L187.2,388.4 L187.9,388.1 L188.5,388.0 L189.2,388.7 L189.8,388.9 L190.4,388.5 L191.1,388.2 L191.7,387.7 L192.4,388.6 L193.0,388.7 L193.7,388.4 L194.3,388.3 L195.0,388.8 L195.6,387.3 L196.3,386.0 L196.9,384.2 L197.6,382.7 L198.2,381.5 L198.9,379.7 L199.5,377.3 L200.2,376.5 L200.8,375.0 L201.5,373.0 L202.1,372.3 L202.8,372.7 L203.4,371.1 L204.0,369.4 L204.7,367.6 L205.3,366.2 L206.0,364.9 L206.6,362.2 L207.3,362.7 L207.9,362.9 L208.6,355.0 L209.2,356.8 L209.9,355.2 L210.5,355.4 L211.2,351.7 L211.8,348.9 L212.5,348.4 L213.1,348.3 L213.8,343.1 L214.4,341.2 L215.1,340.4 L215.7,332.9 L216.3,335.3 L217.0,341.0 L217.6,336.4 L218.3,340.7 L218.9,341.8 L219.6,341.3 L220.2,338.8 L220.9,341.2 L221.5,339.5 L222.2,337.5 L222.8,341.6 L223.5,337.5 L224.1,335.5 L224.8,339.6 L225.4,335.6 L226.1,329.9 L226.7,337.3 L227.4,334.5 L228.0,333.0 L228.7,336.6 L229.3,336.5 L229.9,337.4 L230.6,340.0 L231.2,337.3 L231.9,336.3 L232.5,343.4 L233.2,339.2 L233.8,340.1 L234.5,340.1 L235.1,342.7 L235.8,343.2 L236.4,344.5 L237.1,347.9 L237.7,351.3 L238.4,346.5 L239.0,352.4 L239.7,348.5 L240.3,355.7 L241.0,355.5 L241.6,358.6 L242.2,356.9 L242.9,361.7 L243.5,360.7 L244.2,363.1 L244.8,368.2 L245.5,365.5 L246.1,368.5 L246.8,369.8 L247.4,372.8 L248.1,374.2 L248.7,375.4 L249.4,376.6 L250.0,379.4 L250.7,381.0 L251.3,382.5 L252.0,384.5 L252.6,385.9 L253.3,386.9 L253.9,388.6 L254.6,388.8 L255.2,388.4 L255.8,388.1 L256.5,388.7 L257.1,387.9 L257.8,388.6 L258.4,388.6 L259.1,388.5 L259.7,388.8 L260.4,388.8 L261.0,388.5 L261.7,388.2 L262.3,388.0 L263.0,388.4 L263.6,388.8 L264.3,388.1 L264.9,387.9 L265.6,388.9 L266.2,388.5 L266.9,388.6 L267.5,388.9 L268.1,388.4 L268.8,387.7 L269.4,388.7 L270.1,388.9 L270.7,388.5 L271.4,387.5 L272.0,388.7 L272.7,387.9 L273.3,388.0 L274.0,388.3 L274.6,388.4 L275.3,388.0 L275.9,388.6 L276.6,388.6 L277.2,388.9 L277.9,388.8 L278.5,388.2 L279.2,388.1 L279.8,387.0 L280.5,388.4 L281.1,388.3 L281.7,388.7 L282.4,388.1 L283.0,388.5 L283.7,388.8 L284.3,388.8 L285.0,388.9 L285.6,387.7 L286.3,388.4 L286.9,388.8 L287.6,388.6 L288.2,388.2 L288.9,388.7 L289.5,388.3 L290.2,388.8 L290.8,387.7 L291.5,388.1 L292.1,388.8 L292.8,388.8 L293.4,388.4 L294.0,388.8 L294.7,388.5 L295.3,388.0 L296.0,388.5 L296.6,388.4 L297.3,388.4 L297.9,388.4 L298.6,388.6 L299.2,388.9 L299.9,388.2 L300.5,388.6 L301.2,388.6 L301.8,388.7 L302.5,388.0 L303.1,388.8 L303.8,388.7 L304.4,388.6 L305.1,388.4 L305.7,388.5 L306.4,388.8 L307.0,388.8" fill="none" stroke="#ffcc20" stroke-width="0.9"/>
<path d="M48.0,388.7 L48.6,388.2 L49.3,388.5 L49.9,388.2 L50.6,387.9 L51.2,388.7 L51.9,388.9 L52.5,388.8 L53.2,387.9 L53.8,388.8 L54.5,388.6 L55.1,387.7 L55.8,388.5 L56.4,388.9 L57.1,388.2 L57.7,388.7 L58.4,388.7 L59.0,388.7 L59.7,388.4 L60.3,388.5 L61.0,388.8 L61.6,388.5 L62.2,388.7 L62.9,388.6 L63.5,388.9 L64.2,388.8 L64.8,388.7 L65.5,387.2 L66.1,388.7 L66.8,388.6 L67.4,387.8 L68.1,387.9 L68.7,388.0 L69.4,388.7 L70.0,388.6 L70.7,388.0 L71.3,388.0 L72.0,388.5 L72.6,388.8 L73.3,388.9 L73.9,388.0 L74.5,388.1 L75.2,388.6 L75.8,387.9 L76.5,388.1 L77.1,387.8 L77.8,388.7 L78.4,388.9 L79.1,388.6 L79.7,388.4 L80.4,387.9 L81.0,388.0 L81.7,388.4 L82.3,388.9 L83.0,388.0 L83.6,388.2 L84.3,388.7 L84.9,386.9 L85.6,387.6 L86.2,388.8 L86.8,388.3 L87.5,388.7 L88.1,388.2 L88.8,388.6 L89.4,388.9 L90.1,388.8 L90.7,388.8 L91.4,387.8 L92.0,386.6 L92.7,386.5 L93.3,385.9 L94.0,385.4 L94.6,383.5 L95.3,380.7 L95.9,378.3 L96.6,375.7 L97.2,371.8 L97.9,370.1 L98.5,368.6 L99.2,367.9 L99.8,367.9 L100.4,365.4 L101.1,365.0 L101.7,361.4 L102.4,358.7 L103.0,356.2 L103.7,352.0 L104.3,350.7 L105.0,349.4 L105.6,347.4 L106.3,344.1 L106.9,343.5 L107.6,339.1 L108.2,334.4 L108.9,334.2 L109.5,330.0 L110.2,326.6 L110.8,323.4 L111.5,322.7 L112.1,328.9 L112.8,327.0 L113.4,325.2 L114.0,327.3 L114.7,323.3 L115.3,322.1 L116.0,317.2 L116.6,314.7 L117.3,306.6 L117.9,304.6 L118.6,298.5 L119.2,287.0 L119.9,286.1 L120.5,279.6 L121.2,272.4 L121.8,268.4 L122.5,262.5 L123.1,263.0 L123.8,251.7 L124.4,257.1 L125.1,249.1 L125.7,247.3 L126.3,251.7 L127.0,244.9 L127.6,239.7 L128.3,248.0 L128.9,240.2 L129.6,237.5 L130.2,251.0 L130.9,248.4 L131.5,251.8 L132.2,256.7 L132.8,253.1 L133.5,249.7 L134.1,257.0 L134.8,254.6 L135.4,250.7 L136.1,249.6 L136.7,252.4 L137.4,239.8 L138.0,226.8 L138.6,230.0 L139.3,228.2 L139.9,223.1 L140.6,223.4 L141.2,232.6 L141.9,231.0 L142.5,232.5 L143.2,234.5 L143.8,237.0 L144.5,238.7 L145.1,256.7 L145.8,252.2 L146.4,252.9 L147.1,251.8 L147.7,258.6 L148.4,259.3 L149.0,267.3 L149.7,272.9 L150.3,285.8 L151.0,299.3 L151.6,316.5 L152.2,324.3 L152.9,323.1 L153.5,323.2 L154.2,328.6 L154.8,327.8 L155.5,328.5 L156.1,338.9 L156.8,340.1 L157.4,340.8 L158.1,347.1 L158.7,351.2 L159.4,358.0 L160.0,362.2 L160.7,367.0 L161.3,372.6 L162.0,376.3 L162.6,378.7 L163.3,382.6 L163.9,385.7 L164.6,387.4 L165.2,387.9 L165.8,388.6 L166.5,387.6 L167.1,388.0 L167.8,388.9 L168.4,388.0 L169.1,388.9 L169.7,388.9 L170.4,388.3 L171.0,388.3 L171.7,388.8 L172.3,388.1 L173.0,388.6 L173.6,388.1 L174.3,388.5 L174.9,388.1 L175.6,387.3 L176.2,388.6 L176.9,388.5 L177.5,388.2 L178.1,388.3 L178.8,388.4 L179.4,388.8 L180.1,388.6 L180.7,387.6 L181.4,388.8 L182.0,388.5 L182.7,388.9 L183.3,388.7 L184.0,388.7 L184.6,388.2 L185.3,388.5 L185.9,388.4 L186.6,388.8 L187.2,388.6 L187.9,388.4 L188.5,388.8 L189.2,388.4 L189.8,388.6 L190.4,388.4 L191.1,388.1 L191.7,388.0 L192.4,388.7 L193.0,388.8 L193.7,388.8 L194.3,388.7 L195.0,388.4 L195.6,386.7 L196.3,384.9 L196.9,384.0 L197.6,382.3 L198.2,380.5 L198.9,379.3 L199.5,379.0 L200.2,376.7 L200.8,375.0 L201.5,373.0 L202.1,372.3 L202.8,369.8 L203.4,367.9 L204.0,366.5 L204.7,362.5 L205.3,364.5 L206.0,361.6 L206.6,362.3 L207.3,361.0 L207.9,358.4 L208.6,353.3 L209.2,354.6 L209.9,350.7 L210.5,354.5 L211.2,347.7 L211.8,347.8 L212.5,342.2 L213.1,343.9 L213.8,341.0 L214.4,340.6 L215.1,338.8 L215.7,334.3 L216.3,338.2 L217.0,334.5 L217.6,334.0 L218.3,335.6 L218.9,334.5 L219.6,338.5 L220.2,338.2 L220.9,340.8 L221.5,333.2 L222.2,337.5 L222.8,338.6 L223.5,335.7 L224.1,336.0 L224.8,331.1 L225.4,332.1 L226.1,332.3 L226.7,329.2 L227.4,326.9 L228.0,331.7 L228.7,331.0 L229.3,328.3 L229.9,333.1 L230.6,336.8 L231.2,336.3 L231.9,335.1 L232.5,338.1 L233.2,334.8 L233.8,337.3 L234.5,336.0 L235.1,341.5 L235.8,341.9 L236.4,341.7 L237.1,341.8 L237.7,343.4 L238.4,346.5 L239.0,345.9 L239.7,351.0 L240.3,351.3 L241.0,350.0 L241.6,350.7 L242.2,354.8 L242.9,356.4 L243.5,358.6 L244.2,360.3 L244.8,361.5 L245.5,364.1 L246.1,364.8 L246.8,369.8 L247.4,369.7 L248.1,373.7 L248.7,373.4 L249.4,377.4 L250.0,378.9 L250.7,379.6 L251.3,382.2 L252.0,384.2 L252.6,386.4 L253.3,387.4 L253.9,387.3 L254.6,388.2 L255.2,388.2 L255.8,388.7 L256.5,388.7 L257.1,388.5 L257.8,387.7 L258.4,388.9 L259.1,388.5 L259.7,388.5 L260.4,388.6 L261.0,388.1 L261.7,388.8 L262.3,388.7 L263.0,388.8 L263.6,388.5 L264.3,388.9 L264.9,388.8 L265.6,387.6 L266.2,387.6 L266.9,388.8 L267.5,387.7 L268.1,388.4 L268.8,388.1 L269.4,387.8 L270.1,388.5 L270.7,388.2 L271.4,388.6 L272.0,388.5 L272.7,388.0 L273.3,388.5 L274.0,388.8 L274.6,388.5 L275.3,388.2 L275.9,388.9 L276.6,388.7 L277.2,387.9 L277.9,387.9 L278.5,387.6 L279.2,388.5 L279.8,388.3 L280.5,388.5 L281.1,388.4 L281.7,388.5 L282.4,388.5 L283.0,388.3 L283.7,388.6 L284.3,388.7 L285.0,388.8 L285.6,388.3 L286.3,388.3 L286.9,387.4 L287.6,388.3 L288.2,387.7 L288.9,387.4 L289.5,387.9 L290.2,387.2 L290.8,388.2 L291.5,388.4 L292.1,388.7 L292.8,388.3 L293.4,388.6 L294.0,387.8 L294.7,388.6 L295.3,388.8 L296.0,388.4 L296.6,388.6 L297.3,388.7 L297.9,388.0 L298.6,387.8 L299.2,388.5 L299.9,388.3 L300.5,388.2 L301.2,388.6 L301.8,388.3 L302.5,387.8 L303.1,388.7 L303.8,388.1 L304.4,388.5 L305.1,388.3 L305.7,388.8 L306.4,388.7 L307.0,388.5" fill="none" stroke="#ff8a40" stroke-width="0.9"/>
<path d="M48.0,388.7 L48.6,387.7 L49.3,388.6 L49.9,388.5 L50.6,388.4 L51.2,388.7 L51.9,388.6 L52.5,388.8 L53.2,388.8 L53.8,388.1 L54.5,388.5 L55.1,388.2 L55.8,387.9 L56.4,388.1 L57.1,388.9 L57.7,388.9 L58.4,388.8 L59.0,387.7 L59.7,387.9 L60.3,388.5 L61.0,387.4 L61.6,388.8 L62.2,388.5 L62.9,388.6 L63.5,388.1 L64.2,388.5 L64.8,388.8 L65.5,388.3 L66.1,388.7 L66.8,388.6 L67.4,388.3 L68.1,388.5 L68.7,388.6 L69.4,388.6 L70.0,388.7 L70.7,388.9 L71.3,388.9 L72.0,388.5 L72.6,388.7 L73.3,388.6 L73.9,388.7 L74.5,388.4 L75.2,388.7 L75.8,388.7 L76.5,388.7 L77.1,388.6 L77.8,388.5 L78.4,388.6 L79.1,388.7 L79.7,388.8 L80.4,388.6 L81.0,388.3 L81.7,388.4 L82.3,388.4 L83.0,388.1 L83.6,387.4 L84.3,388.4 L84.9,388.3 L85.6,388.8 L86.2,387.9 L86.8,388.8 L87.5,388.5 L88.1,388.1 L88.8,388.5 L89.4,388.3 L90.1,388.7 L90.7,388.7 L91.4,387.4 L92.0,387.2 L92.7,385.8 L93.3,385.9 L94.0,384.9 L94.6,383.5 L95.3,379.6 L95.9,377.5 L96.6,373.9 L97.2,373.0 L97.9,370.0 L98.5,368.8 L99.2,368.0 L99.8,367.7 L100.4,364.6 L101.1,364.2 L101.7,360.4 L102.4,359.8 L103.0,353.7 L103.7,350.7 L104.3,350.3 L105.0,346.3 L105.6,345.2 L106.3,342.9 L106.9,340.7 L107.6,338.7 L108.2,334.6 L108.9,332.8 L109.5,325.6 L110.2,326.0 L110.8,324.8 L111.5,327.2 L112.1,324.9 L112.8,326.4 L113.4,324.8 L114.0,327.3 L114.7,320.3 L115.3,317.2 L116.0,313.5 L116.6,313.0 L117.3,304.9 L117.9,300.6 L118.6,296.2 L119.2,286.0 L119.9,286.7 L120.5,273.4 L121.2,271.7 L121.8,263.1 L122.5,259.8 L123.1,253.4 L123.8,255.5 L124.4,245.0 L125.1,246.2 L125.7,246.9 L126.3,246.9 L127.0,240.3 L127.6,248.5 L128.3,246.3 L128.9,242.8 L129.6,242.8 L130.2,239.0 L130.9,243.3 L131.5,245.3 L132.2,251.3 L132.8,250.0 L133.5,250.4 L134.1,265.7 L134.8,263.4 L135.4,249.6 L136.1,245.8 L136.7,241.7 L137.4,239.7 L138.0,231.4 L138.6,228.8 L139.3,232.8 L139.9,230.8 L140.6,227.1 L141.2,227.9 L141.9,229.7 L142.5,231.8 L143.2,238.4 L143.8,236.4 L144.5,241.7 L145.1,251.0 L145.8,251.3 L146.4,249.1 L147.1,252.2 L147.7,256.3 L148.4,256.9 L149.0,271.5 L149.7,278.7 L150.3,288.1 L151.0,299.0 L151.6,319.1 L152.2,321.7 L152.9,326.9 L153.5,324.6 L154.2,328.0 L154.8,326.8 L155.5,333.2 L156.1,332.7 L156.8,341.2 L157.4,344.5 L158.1,348.0 L158.7,352.3 L159.4,358.7 L160.0,363.3 L160.7,368.8 L161.3,372.2 L162.0,375.6 L162.6,379.6 L163.3,383.0 L163.9,386.5 L164.6,387.5 L165.2,387.6 L165.8,388.6 L166.5,388.8 L167.1,388.3 L167.8,388.6 L168.4,388.2 L169.1,388.2 L169.7,388.4 L170.4,388.8 L171.0,388.9 L171.7,388.0 L172.3,388.5 L173.0,388.8 L173.6,387.9 L174.3,388.5 L174.9,388.8 L175.6,387.7 L176.2,388.6 L176.9,388.5 L177.5,388.8 L178.1,388.9 L178.8,388.4 L179.4,388.6 L180.1,388.5 L180.7,388.8 L181.4,388.1 L182.0,388.8 L182.7,388.5 L183.3,388.8 L184.0,387.9 L184.6,388.6 L185.3,388.0 L185.9,388.9 L186.6,388.8 L187.2,388.9 L187.9,388.7 L188.5,387.5 L189.2,388.8 L189.8,388.9 L190.4,388.6 L191.1,388.7 L191.7,388.4 L192.4,388.4 L193.0,388.7 L193.7,388.8 L194.3,387.8 L195.0,387.0 L195.6,384.9 L196.3,383.4 L196.9,383.5 L197.6,382.3 L198.2,380.8 L198.9,379.6 L199.5,378.4 L200.2,375.7 L200.8,372.6 L201.5,370.8 L202.1,370.9 L202.8,367.6 L203.4,365.9 L204.0,363.5 L204.7,360.6 L205.3,361.3 L206.0,357.1 L206.6,353.9 L207.3,352.8 L207.9,356.2 L208.6,356.9 L209.2,352.9 L209.9,352.7 L210.5,349.5 L211.2,345.5 L211.8,348.6 L212.5,339.3 L213.1,337.7 L213.8,332.9 L214.4,325.5 L215.1,318.9 L215.7,313.7 L216.3,315.7 L217.0,307.0 L217.6,317.9 L218.3,307.9 L218.9,322.0 L219.6,317.2 L220.2,315.8 L220.9,317.2 L221.5,314.3 L222.2,314.0 L222.8,311.5 L223.5,314.6 L224.1,330.2 L224.8,324.2 L225.4,315.1 L226.1,323.1 L226.7,317.1 L227.4,316.4 L228.0,308.2 L228.7,318.7 L229.3,317.4 L229.9,311.3 L230.6,305.3 L231.2,315.3 L231.9,311.2 L232.5,308.6 L233.2,314.2 L233.8,321.2 L234.5,320.6 L235.1,317.1 L235.8,318.6 L236.4,323.4 L237.1,326.6 L237.7,322.0 L238.4,329.9 L239.0,326.9 L239.7,332.7 L240.3,335.0 L241.0,342.7 L241.6,344.7 L242.2,341.8 L242.9,343.7 L243.5,349.6 L244.2,353.6 L244.8,355.3 L245.5,356.0 L246.1,360.2 L246.8,364.5 L247.4,365.2 L248.1,367.8 L248.7,369.5 L249.4,369.5 L250.0,371.0 L250.7,375.3 L251.3,376.7 L252.0,378.2 L252.6,380.7 L253.3,383.1 L253.9,383.2 L254.6,386.0 L255.2,387.6 L255.8,388.5 L256.5,388.5 L257.1,388.3 L257.8,388.6 L258.4,388.6 L259.1,388.1 L259.7,388.8 L260.4,388.7 L261.0,388.5 L261.7,388.8 L262.3,388.6 L263.0,388.3 L263.6,388.0 L264.3,388.1 L264.9,388.8 L265.6,388.4 L266.2,387.8 L266.9,387.7 L267.5,388.4 L268.1,388.2 L268.8,388.6 L269.4,388.4 L270.1,388.4 L270.7,388.8 L271.4,387.5 L272.0,388.6 L272.7,388.8 L273.3,387.7 L274.0,388.1 L274.6,388.8 L275.3,388.9 L275.9,388.6 L276.6,388.5 L277.2,388.8 L277.9,388.6 L278.5,388.3 L279.2,388.3 L279.8,388.7 L280.5,388.3 L281.1,388.9 L281.7,388.6 L282.4,388.3 L283.0,388.8 L283.7,388.5 L284.3,388.5 L285.0,388.2 L285.6,388.6 L286.3,388.4 L286.9,387.7 L287.6,388.4 L288.2,388.3 L288.9,388.5 L289.5,387.9 L290.2,388.8 L290.8,388.7 L291.5,387.9 L292.1,388.4 L292.8,388.3 L293.4,388.7 L294.0,388.9 L294.7,388.6 L295.3,388.3 L296.0,388.4 L296.6,388.5 L297.3,388.3 L297.9,388.5 L298.6,388.6 L299.2,388.4 L299.9,387.7 L300.5,388.5 L301.2,388.5 L301.8,388.8 L302.5,388.7 L303.1,388.5 L303.8,388.7 L304.4,388.4 L305.1,388.5 L305.7,387.7 L306.4,387.5 L307.0,388.6" fill="none" stroke="#ff1e1e" stroke-width="0.9"/>
</g>
<path d="M49.5,542.1 L54.1,545.7 L58.7,549.1 L63.3,552.4 L67.9,555.5 L72.5,558.4 L77.1,561.1 L81.7,563.7 L86.3,566.0 L90.9,568.2 L95.5,570.3 L100.1,572.1 L104.7,573.8 L109.3,575.3 L113.9,576.6 L118.5,577.8 L123.1,578.8 L127.7,579.6 L132.3,580.2 L136.9,580.6 L141.5,580.9 L146.1,581.0 L150.7,581.0 L155.3,580.7 L159.9,580.3 L164.5,579.7 L169.1,578.9 L173.7,578.0 L178.3,576.9 L182.9,575.6 L187.6,574.1 L192.2,572.5 L196.8,570.7 L201.4,568.7 L206.0,566.5 L210.6,564.2 L215.2,561.6 L219.8,558.9 L224.4,556.1 L229.0,553.0 L233.6,549.8 L238.2,546.4 L242.8,542.9 L247.4,539.1 L252.0,535.2 L256.6,531.1 L261.2,526.9 L265.8,522.4 L270.4,517.8 L275.0,513.0 L279.6,508.1 L284.2,502.9 L288.8,497.6 L293.4,492.1 L298.0,486.5 L302.6,480.6 L307.2,474.6 L311.8,468.4 L316.4,462.1 L321.0,455.5" fill="none" stroke="#444" stroke-width="1"/>
<path d="M82.4,555.9 V588.2 M79.60000000000001,555.9 H85.2 M79.60000000000001,588.2 H85.2" stroke="#3a3a3a" stroke-width="1" fill="none"/>
<path d="M99.2,547.5 V580.7 M96.4,547.5 H102.0 M96.4,580.7 H102.0" stroke="#3a3a3a" stroke-width="1" fill="none"/>
<path d="M124,570.6 V599.6 M121.2,570.6 H126.8 M121.2,599.6 H126.8" stroke="#3a3a3a" stroke-width="1" fill="none"/>
<path d="M139.5,577.7 V605 M136.7,577.7 H142.3 M136.7,605 H142.3" stroke="#3a3a3a" stroke-width="1" fill="none"/>
<path d="M156.3,554.6 V587 M153.5,554.6 H159.10000000000002 M153.5,587 H159.10000000000002" stroke="#3a3a3a" stroke-width="1" fill="none"/>
<path d="M173.1,549.6 V582 M170.29999999999998,549.6 H175.9 M170.29999999999998,582 H175.9" stroke="#3a3a3a" stroke-width="1" fill="none"/>
<path d="M181.3,565.1 V594.5 M178.5,565.1 H184.10000000000002 M178.5,594.5 H184.10000000000002" stroke="#3a3a3a" stroke-width="1" fill="none"/>
<path d="M189.4,567.3 V596.3 M186.6,567.3 H192.20000000000002 M186.6,596.3 H192.20000000000002" stroke="#3a3a3a" stroke-width="1" fill="none"/>
<path d="M197.7,542.5 V575.3 M194.89999999999998,542.5 H200.5 M194.89999999999998,575.3 H200.5" stroke="#3a3a3a" stroke-width="1" fill="none"/>
<path d="M205.9,533.3 V568.6 M203.1,533.3 H208.70000000000002 M203.1,568.6 H208.70000000000002" stroke="#3a3a3a" stroke-width="1" fill="none"/>
<path d="M230.6,538 V571.8 M227.79999999999998,538 H233.4 M227.79999999999998,571.8 H233.4" stroke="#3a3a3a" stroke-width="1" fill="none"/>
<path d="M238.8,543.9 V576.5 M236.0,543.9 H241.60000000000002 M236.0,576.5 H241.60000000000002" stroke="#3a3a3a" stroke-width="1" fill="none"/>
<path d="M247.5,513.7 V551 M244.7,513.7 H250.3 M244.7,551 H250.3" stroke="#3a3a3a" stroke-width="1" fill="none"/>
<path d="M255.7,530.2 V564.7 M252.89999999999998,530.2 H258.5 M252.89999999999998,564.7 H258.5" stroke="#3a3a3a" stroke-width="1" fill="none"/>
<path d="M263.5,515.7 V552.2 M260.7,515.7 H266.3 M260.7,552.2 H266.3" stroke="#3a3a3a" stroke-width="1" fill="none"/>
<path d="M304.9,438.8 V488.8 M302.09999999999997,438.8 H307.7 M302.09999999999997,488.8 H307.7" stroke="#3a3a3a" stroke-width="1" fill="none"/>
<circle cx="82.4" cy="572.3" r="2.7" fill="#f00000" stroke="#500" stroke-width="0.6"/>
<circle cx="99.2" cy="564.3" r="2.7" fill="#f00000" stroke="#500" stroke-width="0.6"/>
<circle cx="124" cy="585.3" r="2.7" fill="#f00000" stroke="#500" stroke-width="0.6"/>
<circle cx="139.5" cy="591.2" r="2.7" fill="#f00000" stroke="#500" stroke-width="0.6"/>
<circle cx="156.3" cy="571" r="2.7" fill="#f00000" stroke="#500" stroke-width="0.6"/>
<circle cx="173.1" cy="566" r="2.7" fill="#f00000" stroke="#500" stroke-width="0.6"/>
<circle cx="181.3" cy="580.1" r="2.7" fill="#f00000" stroke="#500" stroke-width="0.6"/>
<circle cx="189.4" cy="582.2" r="2.7" fill="#f00000" stroke="#500" stroke-width="0.6"/>
<circle cx="197.7" cy="559.6" r="2.7" fill="#f00000" stroke="#500" stroke-width="0.6"/>
<circle cx="205.9" cy="551" r="2.7" fill="#f00000" stroke="#500" stroke-width="0.6"/>
<circle cx="230.6" cy="554.9" r="2.7" fill="#f00000" stroke="#500" stroke-width="0.6"/>
<circle cx="238.8" cy="560.8" r="2.7" fill="#f00000" stroke="#500" stroke-width="0.6"/>
<circle cx="247.5" cy="533" r="2.7" fill="#f00000" stroke="#500" stroke-width="0.6"/>
<circle cx="255.7" cy="547.8" r="2.7" fill="#f00000" stroke="#500" stroke-width="0.6"/>
<circle cx="263.5" cy="534.5" r="2.7" fill="#f00000" stroke="#500" stroke-width="0.6"/>
<circle cx="304.9" cy="463.9" r="2.7" fill="#f00000" stroke="#500" stroke-width="0.6"/>
<path d="M49.5,594.5 L50.9,593.7 L52.9,592.6 L55.2,591.3 L57.5,590.0 L59.8,588.7 L62.1,587.2 L64.6,585.7 L67.0,584.3 L69.4,583.0 L71.8,581.8 L74.2,580.5 L76.6,578.8 L79.0,576.6 L81.4,574.1 L83.7,571.4 L86.1,569.0 L88.5,566.9 L90.9,564.9 L93.2,563.0 L95.6,561.0 L97.9,559.0 L100.3,557.1 L102.6,555.1 L105.0,552.9 L107.4,550.4 L109.8,547.6 L112.3,544.8 L114.7,541.9 L117.1,539.0 L119.5,536.2 L121.8,533.2 L124.2,530.0 L126.6,526.7 L128.9,523.3 L131.3,519.7 L133.7,515.7 L136.2,511.1 L138.7,506.1 L141.2,501.1 L143.2,496.7 L144.7,493.0 L145.9,489.7 L147.0,486.7 L148.0,484.0 L149.1,481.5 L150.1,479.2 L151.0,477.2 L152.0,475.5 L153.0,474.2 L154.0,473.2 L155.0,472.5 L156.0,472.0 L157.0,471.8 L158.0,472.0 L159.0,472.2 L160.0,472.3 L160.9,472.3 L161.8,472.3 L162.7,472.1 L164.0,471.5 L165.6,470.5 L167.6,469.1 L169.6,467.5 L171.8,465.7 L174.1,463.5 L176.4,461.0 L178.9,458.5 L181.3,456.2 L183.8,454.2 L186.3,452.3 L188.7,450.6 L190.9,449.0 L192.8,447.5 L194.6,446.1 L196.2,444.8 L197.8,443.7 L199.4,442.7 L200.9,441.7 L202.4,441.1 L203.7,441.0 L204.8,441.4 L205.6,442.3 L206.5,443.7 L207.6,445.7 L208.9,448.5 L210.3,452.0 L211.8,455.8 L213.5,459.4 L215.3,462.7 L217.3,465.9 L219.4,469.3 L221.4,473.1 L223.4,477.5 L225.3,482.4 L227.2,487.5 L229.2,492.7 L231.2,498.0 L233.2,503.5 L235.1,509.0 L237.1,514.3 L239.1,519.4 L241.0,524.3 L243.0,529.2 L244.9,533.9 L246.9,538.6 L248.9,543.3 L250.9,547.7 L252.7,551.6 L254.3,554.8 L255.7,557.5 L257.0,560.0 L258.4,563.0 L259.8,566.7 L261.3,570.7 L262.7,574.6 L264.0,578.0 L265.1,580.6 L266.1,582.6 L267.1,584.4 L268.2,586.3 L269.4,588.3 L270.7,590.2 L272.2,592.1 L274.1,594.1 L276.6,596.3 L279.6,598.6 L282.8,600.9 L285.9,602.7 L288.9,604.1 L291.9,605.1 L294.8,605.9 L297.6,606.7 L300.2,607.4 L302.5,608.0 L304.9,608.4 L307.6,608.8 L310.9,609.0 L314.7,609.2 L318.1,609.2 L320.5,609.3" fill="none" stroke="#4040ff" stroke-width="1.05"/>
<path d="M321,433 H49.5 V608.7 H321" fill="none" stroke="#666" stroke-width="1.3"/>
<line x1="321" y1="432.4" x2="321" y2="609.3" stroke="#3a3aff" stroke-width="1.3"/>
<line x1="49.5" y1="597.5" x2="52.5" y2="597.5" stroke="#666" stroke-width="1.2"/>
<text x="43.2" y="602.15" font-size="11.5" fill="#000" text-anchor="end" textLength="21.8" lengthAdjust="spacingAndGlyphs"  stroke="#000" stroke-width="0.22">0.25</text>
<line x1="49.5" y1="568.1" x2="52.5" y2="568.1" stroke="#666" stroke-width="1.2"/>
<text x="43.2" y="572.7" font-size="11.5" fill="#000" text-anchor="end" textLength="21.8" lengthAdjust="spacingAndGlyphs"  stroke="#000" stroke-width="0.22">0.30</text>
<line x1="49.5" y1="538.6" x2="52.5" y2="538.6" stroke="#666" stroke-width="1.2"/>
<text x="43.2" y="543.25" font-size="11.5" fill="#000" text-anchor="end" textLength="21.8" lengthAdjust="spacingAndGlyphs"  stroke="#000" stroke-width="0.22">0.35</text>
<line x1="49.5" y1="509.2" x2="52.5" y2="509.2" stroke="#666" stroke-width="1.2"/>
<text x="43.2" y="513.8" font-size="11.5" fill="#000" text-anchor="end" textLength="21.8" lengthAdjust="spacingAndGlyphs"  stroke="#000" stroke-width="0.22">0.40</text>
<line x1="49.5" y1="479.8" x2="52.5" y2="479.8" stroke="#666" stroke-width="1.2"/>
<text x="43.2" y="484.35" font-size="11.5" fill="#000" text-anchor="end" textLength="21.8" lengthAdjust="spacingAndGlyphs"  stroke="#000" stroke-width="0.22">0.45</text>
<line x1="49.5" y1="450.3" x2="52.5" y2="450.3" stroke="#666" stroke-width="1.2"/>
<text x="43.2" y="454.90000000000003" font-size="11.5" fill="#000" text-anchor="end" textLength="21.8" lengthAdjust="spacingAndGlyphs"  stroke="#000" stroke-width="0.22">0.50</text>
<line x1="58.0" y1="608.7" x2="58.0" y2="612" stroke="#666" stroke-width="1.2"/>
<text x="58.0" y="629.8" font-size="11.5" fill="#000" text-anchor="middle" textLength="18.8" lengthAdjust="spacingAndGlyphs"  stroke="#000" stroke-width="0.22">750</text>
<line x1="99.0" y1="608.7" x2="99.0" y2="612" stroke="#666" stroke-width="1.2"/>
<text x="99.035" y="629.8" font-size="11.5" fill="#000" text-anchor="middle" textLength="18.8" lengthAdjust="spacingAndGlyphs"  stroke="#000" stroke-width="0.22">800</text>
<line x1="140.1" y1="608.7" x2="140.1" y2="612" stroke="#666" stroke-width="1.2"/>
<text x="140.07" y="629.8" font-size="11.5" fill="#000" text-anchor="middle" textLength="18.8" lengthAdjust="spacingAndGlyphs"  stroke="#000" stroke-width="0.22">850</text>
<line x1="181.1" y1="608.7" x2="181.1" y2="612" stroke="#666" stroke-width="1.2"/>
<text x="181.10500000000002" y="629.8" font-size="11.5" fill="#000" text-anchor="middle" textLength="18.8" lengthAdjust="spacingAndGlyphs"  stroke="#000" stroke-width="0.22">900</text>
<line x1="222.1" y1="608.7" x2="222.1" y2="612" stroke="#666" stroke-width="1.2"/>
<text x="222.14" y="629.8" font-size="11.5" fill="#000" text-anchor="middle" textLength="18.8" lengthAdjust="spacingAndGlyphs"  stroke="#000" stroke-width="0.22">950</text>
<line x1="263.2" y1="608.7" x2="263.2" y2="612" stroke="#666" stroke-width="1.2"/>
<text x="263.17499999999995" y="629.8" font-size="11.5" fill="#000" text-anchor="middle" textLength="24.7" lengthAdjust="spacingAndGlyphs"  stroke="#000" stroke-width="0.22">1000</text>
<line x1="304.2" y1="608.7" x2="304.2" y2="612" stroke="#666" stroke-width="1.2"/>
<text x="304.21000000000004" y="629.8" font-size="11.5" fill="#000" text-anchor="middle" textLength="24.7" lengthAdjust="spacingAndGlyphs"  stroke="#000" stroke-width="0.22">1050</text>
<line x1="318" y1="609.3" x2="321" y2="609.3" stroke="#666" stroke-width="1.2"/>
<text x="328" y="613.3" font-size="11.5" fill="#2a2aff" text-anchor="start" textLength="6" lengthAdjust="spacingAndGlyphs"  stroke="#2a2aff" stroke-width="0.22">0</text>
<line x1="318" y1="567.2" x2="321" y2="567.2" stroke="#666" stroke-width="1.2"/>
<text x="328" y="571.1999999999999" font-size="11.5" fill="#2a2aff" text-anchor="start" textLength="11.7" lengthAdjust="spacingAndGlyphs"  stroke="#2a2aff" stroke-width="0.22">10</text>
<line x1="318" y1="525.1" x2="321" y2="525.1" stroke="#666" stroke-width="1.2"/>
<text x="328" y="529.0999999999999" font-size="11.5" fill="#2a2aff" text-anchor="start" textLength="11.7" lengthAdjust="spacingAndGlyphs"  stroke="#2a2aff" stroke-width="0.22">20</text>
<line x1="318" y1="483.0" x2="321" y2="483.0" stroke="#666" stroke-width="1.2"/>
<text x="328" y="486.99999999999994" font-size="11.5" fill="#2a2aff" text-anchor="start" textLength="11.7" lengthAdjust="spacingAndGlyphs"  stroke="#2a2aff" stroke-width="0.22">30</text>
<line x1="318" y1="440.9" x2="321" y2="440.9" stroke="#666" stroke-width="1.2"/>
<text x="328" y="444.9" font-size="11.5" fill="#2a2aff" text-anchor="start" textLength="11.7" lengthAdjust="spacingAndGlyphs"  stroke="#2a2aff" stroke-width="0.22">40</text>
<text x="108.3" y="648.5" font-size="12.8" fill="#000" text-anchor="start" textLength="153" lengthAdjust="spacingAndGlyphs"  stroke="#000" stroke-width="0.22">Excitation Wavelength (nm)</text>
<text x="54.8" y="451" font-size="13" fill="#000" text-anchor="start"  stroke="#000" stroke-width="0.22">D</text>
<text transform="translate(12.5,555.3) rotate(-90)" font-size="12.5" stroke="#000" stroke-width="0.22">I</text>
<text transform="translate(15.9,552.4) rotate(-90)" font-size="8.9" textLength="35.6" lengthAdjust="spacingAndGlyphs" stroke="#000" stroke-width="0.12">TPPc-EGFP</text>
<text transform="translate(12.5,513.5) rotate(-90)" font-size="12.5" stroke="#000" stroke-width="0.22">/</text>
<text transform="translate(12.5,506.8) rotate(-90)" font-size="12.5" stroke="#000" stroke-width="0.22">I</text>
<text transform="translate(15.9,504.5) rotate(-90)" font-size="8.9" textLength="19" lengthAdjust="spacingAndGlyphs" stroke="#000" stroke-width="0.12">EGFP</text>
<text transform="translate(352.5,542.7) rotate(-90)" font-size="12" fill="#2a2aff" stroke="#2a2aff" stroke-width="0.22">&#963;<tspan font-size="8.5" dy="2.5">2</tspan><tspan dy="-2.5"> (GM)</tspan></text>
</svg></body></html>
